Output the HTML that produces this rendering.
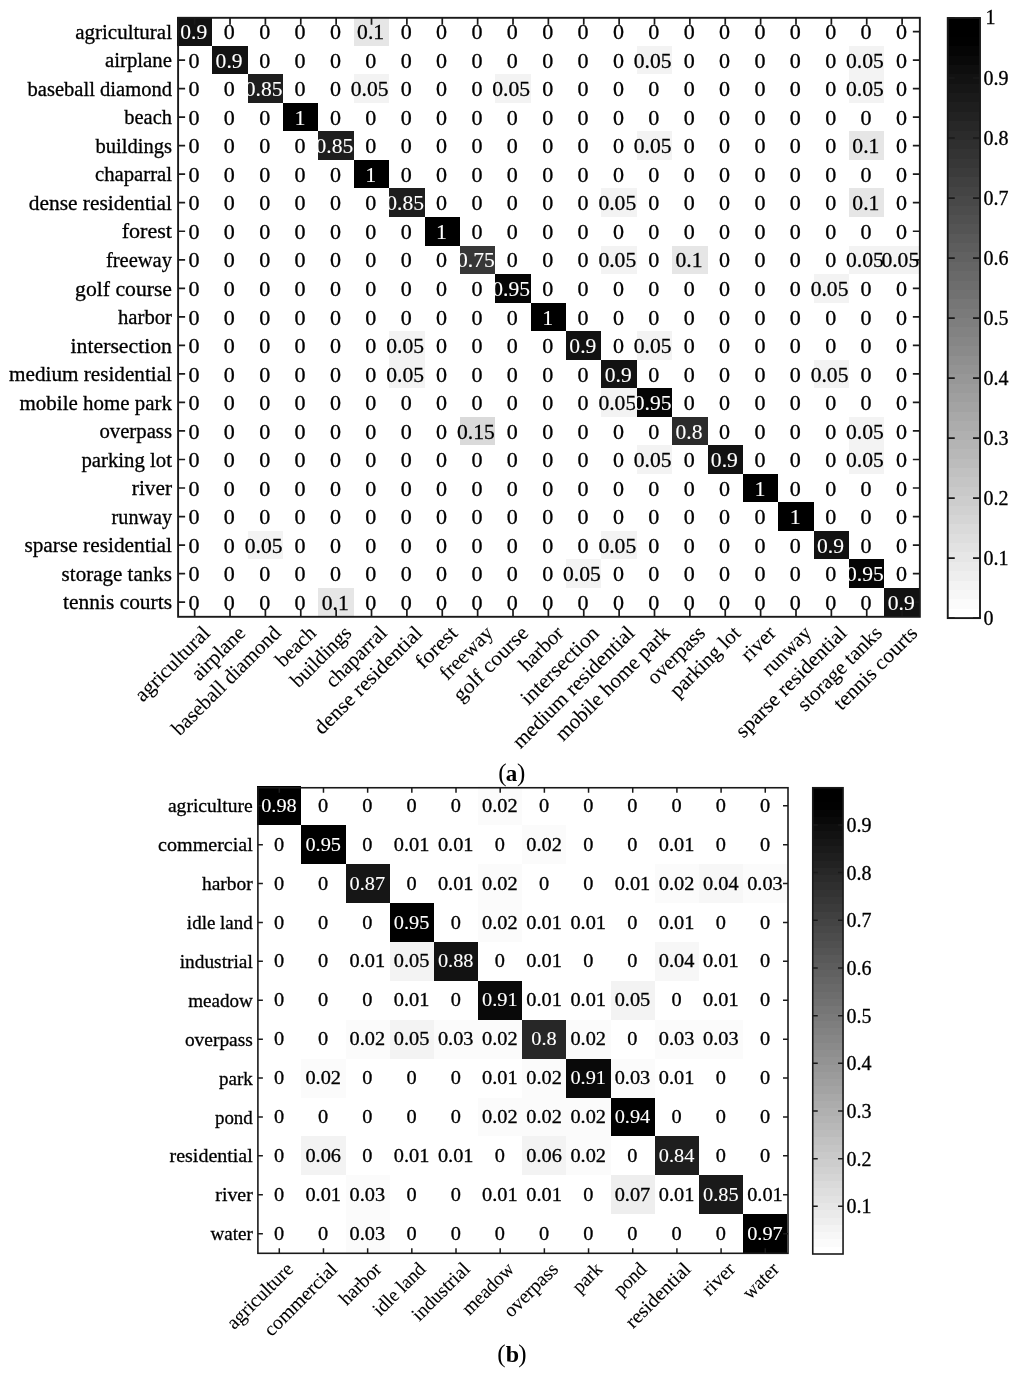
<!DOCTYPE html>
<html><head><meta charset="utf-8"><title>Confusion matrices</title>
<style>html,body{margin:0;padding:0;background:#fff;overflow:hidden;} svg{display:block;}</style></head>
<body><svg width="1024" height="1380" viewBox="0 0 1024 1380">
<rect width="1024" height="1380" fill="#fff"/>
<rect x="176.97" y="17.28" width="35.37" height="28.53" fill="rgb(18,18,18)" shape-rendering="crispEdges"/>
<rect x="353.83" y="17.28" width="35.37" height="28.53" fill="rgb(230,230,230)" shape-rendering="crispEdges"/>
<rect x="212.34" y="45.81" width="35.37" height="28.53" fill="rgb(18,18,18)" shape-rendering="crispEdges"/>
<rect x="636.82" y="45.81" width="35.37" height="28.53" fill="rgb(243,243,243)" shape-rendering="crispEdges"/>
<rect x="849.05" y="45.81" width="35.37" height="28.53" fill="rgb(243,243,243)" shape-rendering="crispEdges"/>
<rect x="247.72" y="74.34" width="35.37" height="28.53" fill="rgb(30,30,30)" shape-rendering="crispEdges"/>
<rect x="353.83" y="74.34" width="35.37" height="28.53" fill="rgb(243,243,243)" shape-rendering="crispEdges"/>
<rect x="495.33" y="74.34" width="35.37" height="28.53" fill="rgb(243,243,243)" shape-rendering="crispEdges"/>
<rect x="849.05" y="74.34" width="35.37" height="28.53" fill="rgb(243,243,243)" shape-rendering="crispEdges"/>
<rect x="283.09" y="102.87" width="35.37" height="28.53" fill="rgb(0,0,0)" shape-rendering="crispEdges"/>
<rect x="318.46" y="131.40" width="35.37" height="28.53" fill="rgb(30,30,30)" shape-rendering="crispEdges"/>
<rect x="636.82" y="131.40" width="35.37" height="28.53" fill="rgb(243,243,243)" shape-rendering="crispEdges"/>
<rect x="849.05" y="131.40" width="35.37" height="28.53" fill="rgb(230,230,230)" shape-rendering="crispEdges"/>
<rect x="353.83" y="159.93" width="35.37" height="28.53" fill="rgb(0,0,0)" shape-rendering="crispEdges"/>
<rect x="389.21" y="188.46" width="35.37" height="28.53" fill="rgb(30,30,30)" shape-rendering="crispEdges"/>
<rect x="601.44" y="188.46" width="35.37" height="28.53" fill="rgb(243,243,243)" shape-rendering="crispEdges"/>
<rect x="849.05" y="188.46" width="35.37" height="28.53" fill="rgb(230,230,230)" shape-rendering="crispEdges"/>
<rect x="424.58" y="216.99" width="35.37" height="28.53" fill="rgb(0,0,0)" shape-rendering="crispEdges"/>
<rect x="459.95" y="245.52" width="35.37" height="28.53" fill="rgb(55,55,55)" shape-rendering="crispEdges"/>
<rect x="601.44" y="245.52" width="35.37" height="28.53" fill="rgb(243,243,243)" shape-rendering="crispEdges"/>
<rect x="672.19" y="245.52" width="35.37" height="28.53" fill="rgb(230,230,230)" shape-rendering="crispEdges"/>
<rect x="849.05" y="245.52" width="35.37" height="28.53" fill="rgb(243,243,243)" shape-rendering="crispEdges"/>
<rect x="884.43" y="245.52" width="35.37" height="28.53" fill="rgb(243,243,243)" shape-rendering="crispEdges"/>
<rect x="495.33" y="274.05" width="35.37" height="28.53" fill="rgb(5,5,5)" shape-rendering="crispEdges"/>
<rect x="813.68" y="274.05" width="35.37" height="28.53" fill="rgb(243,243,243)" shape-rendering="crispEdges"/>
<rect x="530.70" y="302.58" width="35.37" height="28.53" fill="rgb(0,0,0)" shape-rendering="crispEdges"/>
<rect x="389.21" y="331.10" width="35.37" height="28.53" fill="rgb(243,243,243)" shape-rendering="crispEdges"/>
<rect x="566.07" y="331.10" width="35.37" height="28.53" fill="rgb(18,18,18)" shape-rendering="crispEdges"/>
<rect x="636.82" y="331.10" width="35.37" height="28.53" fill="rgb(243,243,243)" shape-rendering="crispEdges"/>
<rect x="389.21" y="359.63" width="35.37" height="28.53" fill="rgb(243,243,243)" shape-rendering="crispEdges"/>
<rect x="601.44" y="359.63" width="35.37" height="28.53" fill="rgb(18,18,18)" shape-rendering="crispEdges"/>
<rect x="813.68" y="359.63" width="35.37" height="28.53" fill="rgb(243,243,243)" shape-rendering="crispEdges"/>
<rect x="601.44" y="388.16" width="35.37" height="28.53" fill="rgb(243,243,243)" shape-rendering="crispEdges"/>
<rect x="636.82" y="388.16" width="35.37" height="28.53" fill="rgb(5,5,5)" shape-rendering="crispEdges"/>
<rect x="459.95" y="416.69" width="35.37" height="28.53" fill="rgb(218,218,218)" shape-rendering="crispEdges"/>
<rect x="672.19" y="416.69" width="35.37" height="28.53" fill="rgb(43,43,43)" shape-rendering="crispEdges"/>
<rect x="849.05" y="416.69" width="35.37" height="28.53" fill="rgb(243,243,243)" shape-rendering="crispEdges"/>
<rect x="636.82" y="445.22" width="35.37" height="28.53" fill="rgb(243,243,243)" shape-rendering="crispEdges"/>
<rect x="707.56" y="445.22" width="35.37" height="28.53" fill="rgb(18,18,18)" shape-rendering="crispEdges"/>
<rect x="849.05" y="445.22" width="35.37" height="28.53" fill="rgb(243,243,243)" shape-rendering="crispEdges"/>
<rect x="742.94" y="473.75" width="35.37" height="28.53" fill="rgb(0,0,0)" shape-rendering="crispEdges"/>
<rect x="778.31" y="502.28" width="35.37" height="28.53" fill="rgb(0,0,0)" shape-rendering="crispEdges"/>
<rect x="247.72" y="530.81" width="35.37" height="28.53" fill="rgb(243,243,243)" shape-rendering="crispEdges"/>
<rect x="601.44" y="530.81" width="35.37" height="28.53" fill="rgb(243,243,243)" shape-rendering="crispEdges"/>
<rect x="813.68" y="530.81" width="35.37" height="28.53" fill="rgb(18,18,18)" shape-rendering="crispEdges"/>
<rect x="566.07" y="559.34" width="35.37" height="28.53" fill="rgb(243,243,243)" shape-rendering="crispEdges"/>
<rect x="849.05" y="559.34" width="35.37" height="28.53" fill="rgb(5,5,5)" shape-rendering="crispEdges"/>
<rect x="318.46" y="587.87" width="35.37" height="28.53" fill="rgb(230,230,230)" shape-rendering="crispEdges"/>
<rect x="884.43" y="587.87" width="35.37" height="28.53" fill="rgb(18,18,18)" shape-rendering="crispEdges"/>
<path d="M194.66 17.80v7M194.66 616.80v-7M230.03 17.80v7M230.03 616.80v-7M265.40 17.80v7M265.40 616.80v-7M300.77 17.80v7M300.77 616.80v-7M336.15 17.80v7M336.15 616.80v-7M371.52 17.80v7M371.52 616.80v-7M406.89 17.80v7M406.89 616.80v-7M442.27 17.80v7M442.27 616.80v-7M477.64 17.80v7M477.64 616.80v-7M513.01 17.80v7M513.01 616.80v-7M548.38 17.80v7M548.38 616.80v-7M583.76 17.80v7M583.76 616.80v-7M619.13 17.80v7M619.13 616.80v-7M654.50 17.80v7M654.50 616.80v-7M689.88 17.80v7M689.88 616.80v-7M725.25 17.80v7M725.25 616.80v-7M760.62 17.80v7M760.62 616.80v-7M796.00 17.80v7M796.00 616.80v-7M831.37 17.80v7M831.37 616.80v-7M866.74 17.80v7M866.74 616.80v-7M902.11 17.80v7M902.11 616.80v-7M178.10 31.54h7M919.85 31.54h-7M178.10 60.07h7M919.85 60.07h-7M178.10 88.60h7M919.85 88.60h-7M178.10 117.13h7M919.85 117.13h-7M178.10 145.66h7M919.85 145.66h-7M178.10 174.19h7M919.85 174.19h-7M178.10 202.72h7M919.85 202.72h-7M178.10 231.25h7M919.85 231.25h-7M178.10 259.78h7M919.85 259.78h-7M178.10 288.31h7M919.85 288.31h-7M178.10 316.84h7M919.85 316.84h-7M178.10 345.37h7M919.85 345.37h-7M178.10 373.90h7M919.85 373.90h-7M178.10 402.43h7M919.85 402.43h-7M178.10 430.96h7M919.85 430.96h-7M178.10 459.49h7M919.85 459.49h-7M178.10 488.02h7M919.85 488.02h-7M178.10 516.55h7M919.85 516.55h-7M178.10 545.08h7M919.85 545.08h-7M178.10 573.61h7M919.85 573.61h-7M178.10 602.14h7M919.85 602.14h-7" stroke="#1a1a1a" stroke-width="1.7" fill="none"/>
<g font-family="'Liberation Serif', 'Times New Roman', serif" font-size="21" text-anchor="middle" stroke-width="0.3">
<text transform="translate(193.76 39.24) scale(1.03 1)" fill="#fff" stroke="#fff" stroke-width="0.1">0.9</text>
<text transform="translate(229.33 39.24) scale(1.05 1)" fill="#000" stroke="#000">0</text>
<text transform="translate(264.70 39.24) scale(1.05 1)" fill="#000" stroke="#000">0</text>
<text transform="translate(300.07 39.24) scale(1.05 1)" fill="#000" stroke="#000">0</text>
<text transform="translate(335.45 39.24) scale(1.05 1)" fill="#000" stroke="#000">0</text>
<text transform="translate(370.62 39.24) scale(1.03 1)" fill="#000" stroke="#000">0.1</text>
<text transform="translate(406.19 39.24) scale(1.05 1)" fill="#000" stroke="#000">0</text>
<text transform="translate(441.57 39.24) scale(1.05 1)" fill="#000" stroke="#000">0</text>
<text transform="translate(476.94 39.24) scale(1.05 1)" fill="#000" stroke="#000">0</text>
<text transform="translate(512.31 39.24) scale(1.05 1)" fill="#000" stroke="#000">0</text>
<text transform="translate(547.68 39.24) scale(1.05 1)" fill="#000" stroke="#000">0</text>
<text transform="translate(583.06 39.24) scale(1.05 1)" fill="#000" stroke="#000">0</text>
<text transform="translate(618.43 39.24) scale(1.05 1)" fill="#000" stroke="#000">0</text>
<text transform="translate(653.80 39.24) scale(1.05 1)" fill="#000" stroke="#000">0</text>
<text transform="translate(689.18 39.24) scale(1.05 1)" fill="#000" stroke="#000">0</text>
<text transform="translate(724.55 39.24) scale(1.05 1)" fill="#000" stroke="#000">0</text>
<text transform="translate(759.92 39.24) scale(1.05 1)" fill="#000" stroke="#000">0</text>
<text transform="translate(795.29 39.24) scale(1.05 1)" fill="#000" stroke="#000">0</text>
<text transform="translate(830.67 39.24) scale(1.05 1)" fill="#000" stroke="#000">0</text>
<text transform="translate(866.04 39.24) scale(1.05 1)" fill="#000" stroke="#000">0</text>
<text transform="translate(901.41 39.24) scale(1.05 1)" fill="#000" stroke="#000">0</text>
<text transform="translate(193.96 67.77) scale(1.05 1)" fill="#000" stroke="#000">0</text>
<text transform="translate(229.13 67.77) scale(1.03 1)" fill="#fff" stroke="#fff" stroke-width="0.1">0.9</text>
<text transform="translate(264.70 67.77) scale(1.05 1)" fill="#000" stroke="#000">0</text>
<text transform="translate(300.07 67.77) scale(1.05 1)" fill="#000" stroke="#000">0</text>
<text transform="translate(335.45 67.77) scale(1.05 1)" fill="#000" stroke="#000">0</text>
<text transform="translate(370.82 67.77) scale(1.05 1)" fill="#000" stroke="#000">0</text>
<text transform="translate(406.19 67.77) scale(1.05 1)" fill="#000" stroke="#000">0</text>
<text transform="translate(441.57 67.77) scale(1.05 1)" fill="#000" stroke="#000">0</text>
<text transform="translate(476.94 67.77) scale(1.05 1)" fill="#000" stroke="#000">0</text>
<text transform="translate(512.31 67.77) scale(1.05 1)" fill="#000" stroke="#000">0</text>
<text transform="translate(547.68 67.77) scale(1.05 1)" fill="#000" stroke="#000">0</text>
<text transform="translate(583.06 67.77) scale(1.05 1)" fill="#000" stroke="#000">0</text>
<text transform="translate(618.43 67.77) scale(1.05 1)" fill="#000" stroke="#000">0</text>
<text transform="translate(652.70 67.77) scale(1.03 1)" fill="#000" stroke="#000">0.05</text>
<text transform="translate(689.18 67.77) scale(1.05 1)" fill="#000" stroke="#000">0</text>
<text transform="translate(724.55 67.77) scale(1.05 1)" fill="#000" stroke="#000">0</text>
<text transform="translate(759.92 67.77) scale(1.05 1)" fill="#000" stroke="#000">0</text>
<text transform="translate(795.29 67.77) scale(1.05 1)" fill="#000" stroke="#000">0</text>
<text transform="translate(830.67 67.77) scale(1.05 1)" fill="#000" stroke="#000">0</text>
<text transform="translate(864.94 67.77) scale(1.03 1)" fill="#000" stroke="#000">0.05</text>
<text transform="translate(901.41 67.77) scale(1.05 1)" fill="#000" stroke="#000">0</text>
<text transform="translate(193.96 96.30) scale(1.05 1)" fill="#000" stroke="#000">0</text>
<text transform="translate(229.33 96.30) scale(1.05 1)" fill="#000" stroke="#000">0</text>
<text transform="translate(263.60 96.30) scale(1.03 1)" fill="#fff" stroke="#fff" stroke-width="0.1">0.85</text>
<text transform="translate(300.07 96.30) scale(1.05 1)" fill="#000" stroke="#000">0</text>
<text transform="translate(335.45 96.30) scale(1.05 1)" fill="#000" stroke="#000">0</text>
<text transform="translate(369.72 96.30) scale(1.03 1)" fill="#000" stroke="#000">0.05</text>
<text transform="translate(406.19 96.30) scale(1.05 1)" fill="#000" stroke="#000">0</text>
<text transform="translate(441.57 96.30) scale(1.05 1)" fill="#000" stroke="#000">0</text>
<text transform="translate(476.94 96.30) scale(1.05 1)" fill="#000" stroke="#000">0</text>
<text transform="translate(511.21 96.30) scale(1.03 1)" fill="#000" stroke="#000">0.05</text>
<text transform="translate(547.68 96.30) scale(1.05 1)" fill="#000" stroke="#000">0</text>
<text transform="translate(583.06 96.30) scale(1.05 1)" fill="#000" stroke="#000">0</text>
<text transform="translate(618.43 96.30) scale(1.05 1)" fill="#000" stroke="#000">0</text>
<text transform="translate(653.80 96.30) scale(1.05 1)" fill="#000" stroke="#000">0</text>
<text transform="translate(689.18 96.30) scale(1.05 1)" fill="#000" stroke="#000">0</text>
<text transform="translate(724.55 96.30) scale(1.05 1)" fill="#000" stroke="#000">0</text>
<text transform="translate(759.92 96.30) scale(1.05 1)" fill="#000" stroke="#000">0</text>
<text transform="translate(795.29 96.30) scale(1.05 1)" fill="#000" stroke="#000">0</text>
<text transform="translate(830.67 96.30) scale(1.05 1)" fill="#000" stroke="#000">0</text>
<text transform="translate(864.94 96.30) scale(1.03 1)" fill="#000" stroke="#000">0.05</text>
<text transform="translate(901.41 96.30) scale(1.05 1)" fill="#000" stroke="#000">0</text>
<text transform="translate(193.96 124.83) scale(1.05 1)" fill="#000" stroke="#000">0</text>
<text transform="translate(229.33 124.83) scale(1.05 1)" fill="#000" stroke="#000">0</text>
<text transform="translate(264.70 124.83) scale(1.05 1)" fill="#000" stroke="#000">0</text>
<text transform="translate(300.07 124.83) scale(1.05 1)" fill="#fff" stroke="#fff" stroke-width="0.1">1</text>
<text transform="translate(335.45 124.83) scale(1.05 1)" fill="#000" stroke="#000">0</text>
<text transform="translate(370.82 124.83) scale(1.05 1)" fill="#000" stroke="#000">0</text>
<text transform="translate(406.19 124.83) scale(1.05 1)" fill="#000" stroke="#000">0</text>
<text transform="translate(441.57 124.83) scale(1.05 1)" fill="#000" stroke="#000">0</text>
<text transform="translate(476.94 124.83) scale(1.05 1)" fill="#000" stroke="#000">0</text>
<text transform="translate(512.31 124.83) scale(1.05 1)" fill="#000" stroke="#000">0</text>
<text transform="translate(547.68 124.83) scale(1.05 1)" fill="#000" stroke="#000">0</text>
<text transform="translate(583.06 124.83) scale(1.05 1)" fill="#000" stroke="#000">0</text>
<text transform="translate(618.43 124.83) scale(1.05 1)" fill="#000" stroke="#000">0</text>
<text transform="translate(653.80 124.83) scale(1.05 1)" fill="#000" stroke="#000">0</text>
<text transform="translate(689.18 124.83) scale(1.05 1)" fill="#000" stroke="#000">0</text>
<text transform="translate(724.55 124.83) scale(1.05 1)" fill="#000" stroke="#000">0</text>
<text transform="translate(759.92 124.83) scale(1.05 1)" fill="#000" stroke="#000">0</text>
<text transform="translate(795.29 124.83) scale(1.05 1)" fill="#000" stroke="#000">0</text>
<text transform="translate(830.67 124.83) scale(1.05 1)" fill="#000" stroke="#000">0</text>
<text transform="translate(866.04 124.83) scale(1.05 1)" fill="#000" stroke="#000">0</text>
<text transform="translate(901.41 124.83) scale(1.05 1)" fill="#000" stroke="#000">0</text>
<text transform="translate(193.96 153.36) scale(1.05 1)" fill="#000" stroke="#000">0</text>
<text transform="translate(229.33 153.36) scale(1.05 1)" fill="#000" stroke="#000">0</text>
<text transform="translate(264.70 153.36) scale(1.05 1)" fill="#000" stroke="#000">0</text>
<text transform="translate(300.07 153.36) scale(1.05 1)" fill="#000" stroke="#000">0</text>
<text transform="translate(334.35 153.36) scale(1.03 1)" fill="#fff" stroke="#fff" stroke-width="0.1">0.85</text>
<text transform="translate(370.82 153.36) scale(1.05 1)" fill="#000" stroke="#000">0</text>
<text transform="translate(406.19 153.36) scale(1.05 1)" fill="#000" stroke="#000">0</text>
<text transform="translate(441.57 153.36) scale(1.05 1)" fill="#000" stroke="#000">0</text>
<text transform="translate(476.94 153.36) scale(1.05 1)" fill="#000" stroke="#000">0</text>
<text transform="translate(512.31 153.36) scale(1.05 1)" fill="#000" stroke="#000">0</text>
<text transform="translate(547.68 153.36) scale(1.05 1)" fill="#000" stroke="#000">0</text>
<text transform="translate(583.06 153.36) scale(1.05 1)" fill="#000" stroke="#000">0</text>
<text transform="translate(618.43 153.36) scale(1.05 1)" fill="#000" stroke="#000">0</text>
<text transform="translate(652.70 153.36) scale(1.03 1)" fill="#000" stroke="#000">0.05</text>
<text transform="translate(689.18 153.36) scale(1.05 1)" fill="#000" stroke="#000">0</text>
<text transform="translate(724.55 153.36) scale(1.05 1)" fill="#000" stroke="#000">0</text>
<text transform="translate(759.92 153.36) scale(1.05 1)" fill="#000" stroke="#000">0</text>
<text transform="translate(795.29 153.36) scale(1.05 1)" fill="#000" stroke="#000">0</text>
<text transform="translate(830.67 153.36) scale(1.05 1)" fill="#000" stroke="#000">0</text>
<text transform="translate(865.84 153.36) scale(1.03 1)" fill="#000" stroke="#000">0.1</text>
<text transform="translate(901.41 153.36) scale(1.05 1)" fill="#000" stroke="#000">0</text>
<text transform="translate(193.96 181.89) scale(1.05 1)" fill="#000" stroke="#000">0</text>
<text transform="translate(229.33 181.89) scale(1.05 1)" fill="#000" stroke="#000">0</text>
<text transform="translate(264.70 181.89) scale(1.05 1)" fill="#000" stroke="#000">0</text>
<text transform="translate(300.07 181.89) scale(1.05 1)" fill="#000" stroke="#000">0</text>
<text transform="translate(335.45 181.89) scale(1.05 1)" fill="#000" stroke="#000">0</text>
<text transform="translate(370.82 181.89) scale(1.05 1)" fill="#fff" stroke="#fff" stroke-width="0.1">1</text>
<text transform="translate(406.19 181.89) scale(1.05 1)" fill="#000" stroke="#000">0</text>
<text transform="translate(441.57 181.89) scale(1.05 1)" fill="#000" stroke="#000">0</text>
<text transform="translate(476.94 181.89) scale(1.05 1)" fill="#000" stroke="#000">0</text>
<text transform="translate(512.31 181.89) scale(1.05 1)" fill="#000" stroke="#000">0</text>
<text transform="translate(547.68 181.89) scale(1.05 1)" fill="#000" stroke="#000">0</text>
<text transform="translate(583.06 181.89) scale(1.05 1)" fill="#000" stroke="#000">0</text>
<text transform="translate(618.43 181.89) scale(1.05 1)" fill="#000" stroke="#000">0</text>
<text transform="translate(653.80 181.89) scale(1.05 1)" fill="#000" stroke="#000">0</text>
<text transform="translate(689.18 181.89) scale(1.05 1)" fill="#000" stroke="#000">0</text>
<text transform="translate(724.55 181.89) scale(1.05 1)" fill="#000" stroke="#000">0</text>
<text transform="translate(759.92 181.89) scale(1.05 1)" fill="#000" stroke="#000">0</text>
<text transform="translate(795.29 181.89) scale(1.05 1)" fill="#000" stroke="#000">0</text>
<text transform="translate(830.67 181.89) scale(1.05 1)" fill="#000" stroke="#000">0</text>
<text transform="translate(866.04 181.89) scale(1.05 1)" fill="#000" stroke="#000">0</text>
<text transform="translate(901.41 181.89) scale(1.05 1)" fill="#000" stroke="#000">0</text>
<text transform="translate(193.96 210.42) scale(1.05 1)" fill="#000" stroke="#000">0</text>
<text transform="translate(229.33 210.42) scale(1.05 1)" fill="#000" stroke="#000">0</text>
<text transform="translate(264.70 210.42) scale(1.05 1)" fill="#000" stroke="#000">0</text>
<text transform="translate(300.07 210.42) scale(1.05 1)" fill="#000" stroke="#000">0</text>
<text transform="translate(335.45 210.42) scale(1.05 1)" fill="#000" stroke="#000">0</text>
<text transform="translate(370.82 210.42) scale(1.05 1)" fill="#000" stroke="#000">0</text>
<text transform="translate(405.09 210.42) scale(1.03 1)" fill="#fff" stroke="#fff" stroke-width="0.1">0.85</text>
<text transform="translate(441.57 210.42) scale(1.05 1)" fill="#000" stroke="#000">0</text>
<text transform="translate(476.94 210.42) scale(1.05 1)" fill="#000" stroke="#000">0</text>
<text transform="translate(512.31 210.42) scale(1.05 1)" fill="#000" stroke="#000">0</text>
<text transform="translate(547.68 210.42) scale(1.05 1)" fill="#000" stroke="#000">0</text>
<text transform="translate(583.06 210.42) scale(1.05 1)" fill="#000" stroke="#000">0</text>
<text transform="translate(617.33 210.42) scale(1.03 1)" fill="#000" stroke="#000">0.05</text>
<text transform="translate(653.80 210.42) scale(1.05 1)" fill="#000" stroke="#000">0</text>
<text transform="translate(689.18 210.42) scale(1.05 1)" fill="#000" stroke="#000">0</text>
<text transform="translate(724.55 210.42) scale(1.05 1)" fill="#000" stroke="#000">0</text>
<text transform="translate(759.92 210.42) scale(1.05 1)" fill="#000" stroke="#000">0</text>
<text transform="translate(795.29 210.42) scale(1.05 1)" fill="#000" stroke="#000">0</text>
<text transform="translate(830.67 210.42) scale(1.05 1)" fill="#000" stroke="#000">0</text>
<text transform="translate(865.84 210.42) scale(1.03 1)" fill="#000" stroke="#000">0.1</text>
<text transform="translate(901.41 210.42) scale(1.05 1)" fill="#000" stroke="#000">0</text>
<text transform="translate(193.96 238.95) scale(1.05 1)" fill="#000" stroke="#000">0</text>
<text transform="translate(229.33 238.95) scale(1.05 1)" fill="#000" stroke="#000">0</text>
<text transform="translate(264.70 238.95) scale(1.05 1)" fill="#000" stroke="#000">0</text>
<text transform="translate(300.07 238.95) scale(1.05 1)" fill="#000" stroke="#000">0</text>
<text transform="translate(335.45 238.95) scale(1.05 1)" fill="#000" stroke="#000">0</text>
<text transform="translate(370.82 238.95) scale(1.05 1)" fill="#000" stroke="#000">0</text>
<text transform="translate(406.19 238.95) scale(1.05 1)" fill="#000" stroke="#000">0</text>
<text transform="translate(441.57 238.95) scale(1.05 1)" fill="#fff" stroke="#fff" stroke-width="0.1">1</text>
<text transform="translate(476.94 238.95) scale(1.05 1)" fill="#000" stroke="#000">0</text>
<text transform="translate(512.31 238.95) scale(1.05 1)" fill="#000" stroke="#000">0</text>
<text transform="translate(547.68 238.95) scale(1.05 1)" fill="#000" stroke="#000">0</text>
<text transform="translate(583.06 238.95) scale(1.05 1)" fill="#000" stroke="#000">0</text>
<text transform="translate(618.43 238.95) scale(1.05 1)" fill="#000" stroke="#000">0</text>
<text transform="translate(653.80 238.95) scale(1.05 1)" fill="#000" stroke="#000">0</text>
<text transform="translate(689.18 238.95) scale(1.05 1)" fill="#000" stroke="#000">0</text>
<text transform="translate(724.55 238.95) scale(1.05 1)" fill="#000" stroke="#000">0</text>
<text transform="translate(759.92 238.95) scale(1.05 1)" fill="#000" stroke="#000">0</text>
<text transform="translate(795.29 238.95) scale(1.05 1)" fill="#000" stroke="#000">0</text>
<text transform="translate(830.67 238.95) scale(1.05 1)" fill="#000" stroke="#000">0</text>
<text transform="translate(866.04 238.95) scale(1.05 1)" fill="#000" stroke="#000">0</text>
<text transform="translate(901.41 238.95) scale(1.05 1)" fill="#000" stroke="#000">0</text>
<text transform="translate(193.96 267.48) scale(1.05 1)" fill="#000" stroke="#000">0</text>
<text transform="translate(229.33 267.48) scale(1.05 1)" fill="#000" stroke="#000">0</text>
<text transform="translate(264.70 267.48) scale(1.05 1)" fill="#000" stroke="#000">0</text>
<text transform="translate(300.07 267.48) scale(1.05 1)" fill="#000" stroke="#000">0</text>
<text transform="translate(335.45 267.48) scale(1.05 1)" fill="#000" stroke="#000">0</text>
<text transform="translate(370.82 267.48) scale(1.05 1)" fill="#000" stroke="#000">0</text>
<text transform="translate(406.19 267.48) scale(1.05 1)" fill="#000" stroke="#000">0</text>
<text transform="translate(441.57 267.48) scale(1.05 1)" fill="#000" stroke="#000">0</text>
<text transform="translate(475.84 267.48) scale(1.03 1)" fill="#fff" stroke="#fff" stroke-width="0.1">0.75</text>
<text transform="translate(512.31 267.48) scale(1.05 1)" fill="#000" stroke="#000">0</text>
<text transform="translate(547.68 267.48) scale(1.05 1)" fill="#000" stroke="#000">0</text>
<text transform="translate(583.06 267.48) scale(1.05 1)" fill="#000" stroke="#000">0</text>
<text transform="translate(617.33 267.48) scale(1.03 1)" fill="#000" stroke="#000">0.05</text>
<text transform="translate(653.80 267.48) scale(1.05 1)" fill="#000" stroke="#000">0</text>
<text transform="translate(688.98 267.48) scale(1.03 1)" fill="#000" stroke="#000">0.1</text>
<text transform="translate(724.55 267.48) scale(1.05 1)" fill="#000" stroke="#000">0</text>
<text transform="translate(759.92 267.48) scale(1.05 1)" fill="#000" stroke="#000">0</text>
<text transform="translate(795.29 267.48) scale(1.05 1)" fill="#000" stroke="#000">0</text>
<text transform="translate(830.67 267.48) scale(1.05 1)" fill="#000" stroke="#000">0</text>
<text transform="translate(864.94 267.48) scale(1.03 1)" fill="#000" stroke="#000">0.05</text>
<text transform="translate(900.31 267.48) scale(1.03 1)" fill="#000" stroke="#000">0.05</text>
<text transform="translate(193.96 296.01) scale(1.05 1)" fill="#000" stroke="#000">0</text>
<text transform="translate(229.33 296.01) scale(1.05 1)" fill="#000" stroke="#000">0</text>
<text transform="translate(264.70 296.01) scale(1.05 1)" fill="#000" stroke="#000">0</text>
<text transform="translate(300.07 296.01) scale(1.05 1)" fill="#000" stroke="#000">0</text>
<text transform="translate(335.45 296.01) scale(1.05 1)" fill="#000" stroke="#000">0</text>
<text transform="translate(370.82 296.01) scale(1.05 1)" fill="#000" stroke="#000">0</text>
<text transform="translate(406.19 296.01) scale(1.05 1)" fill="#000" stroke="#000">0</text>
<text transform="translate(441.57 296.01) scale(1.05 1)" fill="#000" stroke="#000">0</text>
<text transform="translate(476.94 296.01) scale(1.05 1)" fill="#000" stroke="#000">0</text>
<text transform="translate(511.21 296.01) scale(1.03 1)" fill="#fff" stroke="#fff" stroke-width="0.1">0.95</text>
<text transform="translate(547.68 296.01) scale(1.05 1)" fill="#000" stroke="#000">0</text>
<text transform="translate(583.06 296.01) scale(1.05 1)" fill="#000" stroke="#000">0</text>
<text transform="translate(618.43 296.01) scale(1.05 1)" fill="#000" stroke="#000">0</text>
<text transform="translate(653.80 296.01) scale(1.05 1)" fill="#000" stroke="#000">0</text>
<text transform="translate(689.18 296.01) scale(1.05 1)" fill="#000" stroke="#000">0</text>
<text transform="translate(724.55 296.01) scale(1.05 1)" fill="#000" stroke="#000">0</text>
<text transform="translate(759.92 296.01) scale(1.05 1)" fill="#000" stroke="#000">0</text>
<text transform="translate(795.29 296.01) scale(1.05 1)" fill="#000" stroke="#000">0</text>
<text transform="translate(829.57 296.01) scale(1.03 1)" fill="#000" stroke="#000">0.05</text>
<text transform="translate(866.04 296.01) scale(1.05 1)" fill="#000" stroke="#000">0</text>
<text transform="translate(901.41 296.01) scale(1.05 1)" fill="#000" stroke="#000">0</text>
<text transform="translate(193.96 324.54) scale(1.05 1)" fill="#000" stroke="#000">0</text>
<text transform="translate(229.33 324.54) scale(1.05 1)" fill="#000" stroke="#000">0</text>
<text transform="translate(264.70 324.54) scale(1.05 1)" fill="#000" stroke="#000">0</text>
<text transform="translate(300.07 324.54) scale(1.05 1)" fill="#000" stroke="#000">0</text>
<text transform="translate(335.45 324.54) scale(1.05 1)" fill="#000" stroke="#000">0</text>
<text transform="translate(370.82 324.54) scale(1.05 1)" fill="#000" stroke="#000">0</text>
<text transform="translate(406.19 324.54) scale(1.05 1)" fill="#000" stroke="#000">0</text>
<text transform="translate(441.57 324.54) scale(1.05 1)" fill="#000" stroke="#000">0</text>
<text transform="translate(476.94 324.54) scale(1.05 1)" fill="#000" stroke="#000">0</text>
<text transform="translate(512.31 324.54) scale(1.05 1)" fill="#000" stroke="#000">0</text>
<text transform="translate(547.68 324.54) scale(1.05 1)" fill="#fff" stroke="#fff" stroke-width="0.1">1</text>
<text transform="translate(583.06 324.54) scale(1.05 1)" fill="#000" stroke="#000">0</text>
<text transform="translate(618.43 324.54) scale(1.05 1)" fill="#000" stroke="#000">0</text>
<text transform="translate(653.80 324.54) scale(1.05 1)" fill="#000" stroke="#000">0</text>
<text transform="translate(689.18 324.54) scale(1.05 1)" fill="#000" stroke="#000">0</text>
<text transform="translate(724.55 324.54) scale(1.05 1)" fill="#000" stroke="#000">0</text>
<text transform="translate(759.92 324.54) scale(1.05 1)" fill="#000" stroke="#000">0</text>
<text transform="translate(795.29 324.54) scale(1.05 1)" fill="#000" stroke="#000">0</text>
<text transform="translate(830.67 324.54) scale(1.05 1)" fill="#000" stroke="#000">0</text>
<text transform="translate(866.04 324.54) scale(1.05 1)" fill="#000" stroke="#000">0</text>
<text transform="translate(901.41 324.54) scale(1.05 1)" fill="#000" stroke="#000">0</text>
<text transform="translate(193.96 353.07) scale(1.05 1)" fill="#000" stroke="#000">0</text>
<text transform="translate(229.33 353.07) scale(1.05 1)" fill="#000" stroke="#000">0</text>
<text transform="translate(264.70 353.07) scale(1.05 1)" fill="#000" stroke="#000">0</text>
<text transform="translate(300.07 353.07) scale(1.05 1)" fill="#000" stroke="#000">0</text>
<text transform="translate(335.45 353.07) scale(1.05 1)" fill="#000" stroke="#000">0</text>
<text transform="translate(370.82 353.07) scale(1.05 1)" fill="#000" stroke="#000">0</text>
<text transform="translate(405.09 353.07) scale(1.03 1)" fill="#000" stroke="#000">0.05</text>
<text transform="translate(441.57 353.07) scale(1.05 1)" fill="#000" stroke="#000">0</text>
<text transform="translate(476.94 353.07) scale(1.05 1)" fill="#000" stroke="#000">0</text>
<text transform="translate(512.31 353.07) scale(1.05 1)" fill="#000" stroke="#000">0</text>
<text transform="translate(547.68 353.07) scale(1.05 1)" fill="#000" stroke="#000">0</text>
<text transform="translate(582.86 353.07) scale(1.03 1)" fill="#fff" stroke="#fff" stroke-width="0.1">0.9</text>
<text transform="translate(618.43 353.07) scale(1.05 1)" fill="#000" stroke="#000">0</text>
<text transform="translate(652.70 353.07) scale(1.03 1)" fill="#000" stroke="#000">0.05</text>
<text transform="translate(689.18 353.07) scale(1.05 1)" fill="#000" stroke="#000">0</text>
<text transform="translate(724.55 353.07) scale(1.05 1)" fill="#000" stroke="#000">0</text>
<text transform="translate(759.92 353.07) scale(1.05 1)" fill="#000" stroke="#000">0</text>
<text transform="translate(795.29 353.07) scale(1.05 1)" fill="#000" stroke="#000">0</text>
<text transform="translate(830.67 353.07) scale(1.05 1)" fill="#000" stroke="#000">0</text>
<text transform="translate(866.04 353.07) scale(1.05 1)" fill="#000" stroke="#000">0</text>
<text transform="translate(901.41 353.07) scale(1.05 1)" fill="#000" stroke="#000">0</text>
<text transform="translate(193.96 381.60) scale(1.05 1)" fill="#000" stroke="#000">0</text>
<text transform="translate(229.33 381.60) scale(1.05 1)" fill="#000" stroke="#000">0</text>
<text transform="translate(264.70 381.60) scale(1.05 1)" fill="#000" stroke="#000">0</text>
<text transform="translate(300.07 381.60) scale(1.05 1)" fill="#000" stroke="#000">0</text>
<text transform="translate(335.45 381.60) scale(1.05 1)" fill="#000" stroke="#000">0</text>
<text transform="translate(370.82 381.60) scale(1.05 1)" fill="#000" stroke="#000">0</text>
<text transform="translate(405.09 381.60) scale(1.03 1)" fill="#000" stroke="#000">0.05</text>
<text transform="translate(441.57 381.60) scale(1.05 1)" fill="#000" stroke="#000">0</text>
<text transform="translate(476.94 381.60) scale(1.05 1)" fill="#000" stroke="#000">0</text>
<text transform="translate(512.31 381.60) scale(1.05 1)" fill="#000" stroke="#000">0</text>
<text transform="translate(547.68 381.60) scale(1.05 1)" fill="#000" stroke="#000">0</text>
<text transform="translate(583.06 381.60) scale(1.05 1)" fill="#000" stroke="#000">0</text>
<text transform="translate(618.23 381.60) scale(1.03 1)" fill="#fff" stroke="#fff" stroke-width="0.1">0.9</text>
<text transform="translate(653.80 381.60) scale(1.05 1)" fill="#000" stroke="#000">0</text>
<text transform="translate(689.18 381.60) scale(1.05 1)" fill="#000" stroke="#000">0</text>
<text transform="translate(724.55 381.60) scale(1.05 1)" fill="#000" stroke="#000">0</text>
<text transform="translate(759.92 381.60) scale(1.05 1)" fill="#000" stroke="#000">0</text>
<text transform="translate(795.29 381.60) scale(1.05 1)" fill="#000" stroke="#000">0</text>
<text transform="translate(829.57 381.60) scale(1.03 1)" fill="#000" stroke="#000">0.05</text>
<text transform="translate(866.04 381.60) scale(1.05 1)" fill="#000" stroke="#000">0</text>
<text transform="translate(901.41 381.60) scale(1.05 1)" fill="#000" stroke="#000">0</text>
<text transform="translate(193.96 410.13) scale(1.05 1)" fill="#000" stroke="#000">0</text>
<text transform="translate(229.33 410.13) scale(1.05 1)" fill="#000" stroke="#000">0</text>
<text transform="translate(264.70 410.13) scale(1.05 1)" fill="#000" stroke="#000">0</text>
<text transform="translate(300.07 410.13) scale(1.05 1)" fill="#000" stroke="#000">0</text>
<text transform="translate(335.45 410.13) scale(1.05 1)" fill="#000" stroke="#000">0</text>
<text transform="translate(370.82 410.13) scale(1.05 1)" fill="#000" stroke="#000">0</text>
<text transform="translate(406.19 410.13) scale(1.05 1)" fill="#000" stroke="#000">0</text>
<text transform="translate(441.57 410.13) scale(1.05 1)" fill="#000" stroke="#000">0</text>
<text transform="translate(476.94 410.13) scale(1.05 1)" fill="#000" stroke="#000">0</text>
<text transform="translate(512.31 410.13) scale(1.05 1)" fill="#000" stroke="#000">0</text>
<text transform="translate(547.68 410.13) scale(1.05 1)" fill="#000" stroke="#000">0</text>
<text transform="translate(583.06 410.13) scale(1.05 1)" fill="#000" stroke="#000">0</text>
<text transform="translate(617.33 410.13) scale(1.03 1)" fill="#000" stroke="#000">0.05</text>
<text transform="translate(652.70 410.13) scale(1.03 1)" fill="#fff" stroke="#fff" stroke-width="0.1">0.95</text>
<text transform="translate(689.18 410.13) scale(1.05 1)" fill="#000" stroke="#000">0</text>
<text transform="translate(724.55 410.13) scale(1.05 1)" fill="#000" stroke="#000">0</text>
<text transform="translate(759.92 410.13) scale(1.05 1)" fill="#000" stroke="#000">0</text>
<text transform="translate(795.29 410.13) scale(1.05 1)" fill="#000" stroke="#000">0</text>
<text transform="translate(830.67 410.13) scale(1.05 1)" fill="#000" stroke="#000">0</text>
<text transform="translate(866.04 410.13) scale(1.05 1)" fill="#000" stroke="#000">0</text>
<text transform="translate(901.41 410.13) scale(1.05 1)" fill="#000" stroke="#000">0</text>
<text transform="translate(193.96 438.66) scale(1.05 1)" fill="#000" stroke="#000">0</text>
<text transform="translate(229.33 438.66) scale(1.05 1)" fill="#000" stroke="#000">0</text>
<text transform="translate(264.70 438.66) scale(1.05 1)" fill="#000" stroke="#000">0</text>
<text transform="translate(300.07 438.66) scale(1.05 1)" fill="#000" stroke="#000">0</text>
<text transform="translate(335.45 438.66) scale(1.05 1)" fill="#000" stroke="#000">0</text>
<text transform="translate(370.82 438.66) scale(1.05 1)" fill="#000" stroke="#000">0</text>
<text transform="translate(406.19 438.66) scale(1.05 1)" fill="#000" stroke="#000">0</text>
<text transform="translate(441.57 438.66) scale(1.05 1)" fill="#000" stroke="#000">0</text>
<text transform="translate(475.84 438.66) scale(1.03 1)" fill="#000" stroke="#000">0.15</text>
<text transform="translate(512.31 438.66) scale(1.05 1)" fill="#000" stroke="#000">0</text>
<text transform="translate(547.68 438.66) scale(1.05 1)" fill="#000" stroke="#000">0</text>
<text transform="translate(583.06 438.66) scale(1.05 1)" fill="#000" stroke="#000">0</text>
<text transform="translate(618.43 438.66) scale(1.05 1)" fill="#000" stroke="#000">0</text>
<text transform="translate(653.80 438.66) scale(1.05 1)" fill="#000" stroke="#000">0</text>
<text transform="translate(688.98 438.66) scale(1.03 1)" fill="#fff" stroke="#fff" stroke-width="0.1">0.8</text>
<text transform="translate(724.55 438.66) scale(1.05 1)" fill="#000" stroke="#000">0</text>
<text transform="translate(759.92 438.66) scale(1.05 1)" fill="#000" stroke="#000">0</text>
<text transform="translate(795.29 438.66) scale(1.05 1)" fill="#000" stroke="#000">0</text>
<text transform="translate(830.67 438.66) scale(1.05 1)" fill="#000" stroke="#000">0</text>
<text transform="translate(864.94 438.66) scale(1.03 1)" fill="#000" stroke="#000">0.05</text>
<text transform="translate(901.41 438.66) scale(1.05 1)" fill="#000" stroke="#000">0</text>
<text transform="translate(193.96 467.19) scale(1.05 1)" fill="#000" stroke="#000">0</text>
<text transform="translate(229.33 467.19) scale(1.05 1)" fill="#000" stroke="#000">0</text>
<text transform="translate(264.70 467.19) scale(1.05 1)" fill="#000" stroke="#000">0</text>
<text transform="translate(300.07 467.19) scale(1.05 1)" fill="#000" stroke="#000">0</text>
<text transform="translate(335.45 467.19) scale(1.05 1)" fill="#000" stroke="#000">0</text>
<text transform="translate(370.82 467.19) scale(1.05 1)" fill="#000" stroke="#000">0</text>
<text transform="translate(406.19 467.19) scale(1.05 1)" fill="#000" stroke="#000">0</text>
<text transform="translate(441.57 467.19) scale(1.05 1)" fill="#000" stroke="#000">0</text>
<text transform="translate(476.94 467.19) scale(1.05 1)" fill="#000" stroke="#000">0</text>
<text transform="translate(512.31 467.19) scale(1.05 1)" fill="#000" stroke="#000">0</text>
<text transform="translate(547.68 467.19) scale(1.05 1)" fill="#000" stroke="#000">0</text>
<text transform="translate(583.06 467.19) scale(1.05 1)" fill="#000" stroke="#000">0</text>
<text transform="translate(618.43 467.19) scale(1.05 1)" fill="#000" stroke="#000">0</text>
<text transform="translate(652.70 467.19) scale(1.03 1)" fill="#000" stroke="#000">0.05</text>
<text transform="translate(689.18 467.19) scale(1.05 1)" fill="#000" stroke="#000">0</text>
<text transform="translate(724.35 467.19) scale(1.03 1)" fill="#fff" stroke="#fff" stroke-width="0.1">0.9</text>
<text transform="translate(759.92 467.19) scale(1.05 1)" fill="#000" stroke="#000">0</text>
<text transform="translate(795.29 467.19) scale(1.05 1)" fill="#000" stroke="#000">0</text>
<text transform="translate(830.67 467.19) scale(1.05 1)" fill="#000" stroke="#000">0</text>
<text transform="translate(864.94 467.19) scale(1.03 1)" fill="#000" stroke="#000">0.05</text>
<text transform="translate(901.41 467.19) scale(1.05 1)" fill="#000" stroke="#000">0</text>
<text transform="translate(193.96 495.72) scale(1.05 1)" fill="#000" stroke="#000">0</text>
<text transform="translate(229.33 495.72) scale(1.05 1)" fill="#000" stroke="#000">0</text>
<text transform="translate(264.70 495.72) scale(1.05 1)" fill="#000" stroke="#000">0</text>
<text transform="translate(300.07 495.72) scale(1.05 1)" fill="#000" stroke="#000">0</text>
<text transform="translate(335.45 495.72) scale(1.05 1)" fill="#000" stroke="#000">0</text>
<text transform="translate(370.82 495.72) scale(1.05 1)" fill="#000" stroke="#000">0</text>
<text transform="translate(406.19 495.72) scale(1.05 1)" fill="#000" stroke="#000">0</text>
<text transform="translate(441.57 495.72) scale(1.05 1)" fill="#000" stroke="#000">0</text>
<text transform="translate(476.94 495.72) scale(1.05 1)" fill="#000" stroke="#000">0</text>
<text transform="translate(512.31 495.72) scale(1.05 1)" fill="#000" stroke="#000">0</text>
<text transform="translate(547.68 495.72) scale(1.05 1)" fill="#000" stroke="#000">0</text>
<text transform="translate(583.06 495.72) scale(1.05 1)" fill="#000" stroke="#000">0</text>
<text transform="translate(618.43 495.72) scale(1.05 1)" fill="#000" stroke="#000">0</text>
<text transform="translate(653.80 495.72) scale(1.05 1)" fill="#000" stroke="#000">0</text>
<text transform="translate(689.18 495.72) scale(1.05 1)" fill="#000" stroke="#000">0</text>
<text transform="translate(724.55 495.72) scale(1.05 1)" fill="#000" stroke="#000">0</text>
<text transform="translate(759.92 495.72) scale(1.05 1)" fill="#fff" stroke="#fff" stroke-width="0.1">1</text>
<text transform="translate(795.29 495.72) scale(1.05 1)" fill="#000" stroke="#000">0</text>
<text transform="translate(830.67 495.72) scale(1.05 1)" fill="#000" stroke="#000">0</text>
<text transform="translate(866.04 495.72) scale(1.05 1)" fill="#000" stroke="#000">0</text>
<text transform="translate(901.41 495.72) scale(1.05 1)" fill="#000" stroke="#000">0</text>
<text transform="translate(193.96 524.25) scale(1.05 1)" fill="#000" stroke="#000">0</text>
<text transform="translate(229.33 524.25) scale(1.05 1)" fill="#000" stroke="#000">0</text>
<text transform="translate(264.70 524.25) scale(1.05 1)" fill="#000" stroke="#000">0</text>
<text transform="translate(300.07 524.25) scale(1.05 1)" fill="#000" stroke="#000">0</text>
<text transform="translate(335.45 524.25) scale(1.05 1)" fill="#000" stroke="#000">0</text>
<text transform="translate(370.82 524.25) scale(1.05 1)" fill="#000" stroke="#000">0</text>
<text transform="translate(406.19 524.25) scale(1.05 1)" fill="#000" stroke="#000">0</text>
<text transform="translate(441.57 524.25) scale(1.05 1)" fill="#000" stroke="#000">0</text>
<text transform="translate(476.94 524.25) scale(1.05 1)" fill="#000" stroke="#000">0</text>
<text transform="translate(512.31 524.25) scale(1.05 1)" fill="#000" stroke="#000">0</text>
<text transform="translate(547.68 524.25) scale(1.05 1)" fill="#000" stroke="#000">0</text>
<text transform="translate(583.06 524.25) scale(1.05 1)" fill="#000" stroke="#000">0</text>
<text transform="translate(618.43 524.25) scale(1.05 1)" fill="#000" stroke="#000">0</text>
<text transform="translate(653.80 524.25) scale(1.05 1)" fill="#000" stroke="#000">0</text>
<text transform="translate(689.18 524.25) scale(1.05 1)" fill="#000" stroke="#000">0</text>
<text transform="translate(724.55 524.25) scale(1.05 1)" fill="#000" stroke="#000">0</text>
<text transform="translate(759.92 524.25) scale(1.05 1)" fill="#000" stroke="#000">0</text>
<text transform="translate(795.29 524.25) scale(1.05 1)" fill="#fff" stroke="#fff" stroke-width="0.1">1</text>
<text transform="translate(830.67 524.25) scale(1.05 1)" fill="#000" stroke="#000">0</text>
<text transform="translate(866.04 524.25) scale(1.05 1)" fill="#000" stroke="#000">0</text>
<text transform="translate(901.41 524.25) scale(1.05 1)" fill="#000" stroke="#000">0</text>
<text transform="translate(193.96 552.78) scale(1.05 1)" fill="#000" stroke="#000">0</text>
<text transform="translate(229.33 552.78) scale(1.05 1)" fill="#000" stroke="#000">0</text>
<text transform="translate(263.60 552.78) scale(1.03 1)" fill="#000" stroke="#000">0.05</text>
<text transform="translate(300.07 552.78) scale(1.05 1)" fill="#000" stroke="#000">0</text>
<text transform="translate(335.45 552.78) scale(1.05 1)" fill="#000" stroke="#000">0</text>
<text transform="translate(370.82 552.78) scale(1.05 1)" fill="#000" stroke="#000">0</text>
<text transform="translate(406.19 552.78) scale(1.05 1)" fill="#000" stroke="#000">0</text>
<text transform="translate(441.57 552.78) scale(1.05 1)" fill="#000" stroke="#000">0</text>
<text transform="translate(476.94 552.78) scale(1.05 1)" fill="#000" stroke="#000">0</text>
<text transform="translate(512.31 552.78) scale(1.05 1)" fill="#000" stroke="#000">0</text>
<text transform="translate(547.68 552.78) scale(1.05 1)" fill="#000" stroke="#000">0</text>
<text transform="translate(583.06 552.78) scale(1.05 1)" fill="#000" stroke="#000">0</text>
<text transform="translate(617.33 552.78) scale(1.03 1)" fill="#000" stroke="#000">0.05</text>
<text transform="translate(653.80 552.78) scale(1.05 1)" fill="#000" stroke="#000">0</text>
<text transform="translate(689.18 552.78) scale(1.05 1)" fill="#000" stroke="#000">0</text>
<text transform="translate(724.55 552.78) scale(1.05 1)" fill="#000" stroke="#000">0</text>
<text transform="translate(759.92 552.78) scale(1.05 1)" fill="#000" stroke="#000">0</text>
<text transform="translate(795.29 552.78) scale(1.05 1)" fill="#000" stroke="#000">0</text>
<text transform="translate(830.47 552.78) scale(1.03 1)" fill="#fff" stroke="#fff" stroke-width="0.1">0.9</text>
<text transform="translate(866.04 552.78) scale(1.05 1)" fill="#000" stroke="#000">0</text>
<text transform="translate(901.41 552.78) scale(1.05 1)" fill="#000" stroke="#000">0</text>
<text transform="translate(193.96 581.31) scale(1.05 1)" fill="#000" stroke="#000">0</text>
<text transform="translate(229.33 581.31) scale(1.05 1)" fill="#000" stroke="#000">0</text>
<text transform="translate(264.70 581.31) scale(1.05 1)" fill="#000" stroke="#000">0</text>
<text transform="translate(300.07 581.31) scale(1.05 1)" fill="#000" stroke="#000">0</text>
<text transform="translate(335.45 581.31) scale(1.05 1)" fill="#000" stroke="#000">0</text>
<text transform="translate(370.82 581.31) scale(1.05 1)" fill="#000" stroke="#000">0</text>
<text transform="translate(406.19 581.31) scale(1.05 1)" fill="#000" stroke="#000">0</text>
<text transform="translate(441.57 581.31) scale(1.05 1)" fill="#000" stroke="#000">0</text>
<text transform="translate(476.94 581.31) scale(1.05 1)" fill="#000" stroke="#000">0</text>
<text transform="translate(512.31 581.31) scale(1.05 1)" fill="#000" stroke="#000">0</text>
<text transform="translate(547.68 581.31) scale(1.05 1)" fill="#000" stroke="#000">0</text>
<text transform="translate(581.96 581.31) scale(1.03 1)" fill="#000" stroke="#000">0.05</text>
<text transform="translate(618.43 581.31) scale(1.05 1)" fill="#000" stroke="#000">0</text>
<text transform="translate(653.80 581.31) scale(1.05 1)" fill="#000" stroke="#000">0</text>
<text transform="translate(689.18 581.31) scale(1.05 1)" fill="#000" stroke="#000">0</text>
<text transform="translate(724.55 581.31) scale(1.05 1)" fill="#000" stroke="#000">0</text>
<text transform="translate(759.92 581.31) scale(1.05 1)" fill="#000" stroke="#000">0</text>
<text transform="translate(795.29 581.31) scale(1.05 1)" fill="#000" stroke="#000">0</text>
<text transform="translate(830.67 581.31) scale(1.05 1)" fill="#000" stroke="#000">0</text>
<text transform="translate(864.94 581.31) scale(1.03 1)" fill="#fff" stroke="#fff" stroke-width="0.1">0.95</text>
<text transform="translate(901.41 581.31) scale(1.05 1)" fill="#000" stroke="#000">0</text>
<text transform="translate(193.96 609.84) scale(1.05 1)" fill="#000" stroke="#000">0</text>
<text transform="translate(229.33 609.84) scale(1.05 1)" fill="#000" stroke="#000">0</text>
<text transform="translate(264.70 609.84) scale(1.05 1)" fill="#000" stroke="#000">0</text>
<text transform="translate(300.07 609.84) scale(1.05 1)" fill="#000" stroke="#000">0</text>
<text transform="translate(335.25 609.84) scale(1.03 1)" fill="#000" stroke="#000">0.1</text>
<text transform="translate(370.82 609.84) scale(1.05 1)" fill="#000" stroke="#000">0</text>
<text transform="translate(406.19 609.84) scale(1.05 1)" fill="#000" stroke="#000">0</text>
<text transform="translate(441.57 609.84) scale(1.05 1)" fill="#000" stroke="#000">0</text>
<text transform="translate(476.94 609.84) scale(1.05 1)" fill="#000" stroke="#000">0</text>
<text transform="translate(512.31 609.84) scale(1.05 1)" fill="#000" stroke="#000">0</text>
<text transform="translate(547.68 609.84) scale(1.05 1)" fill="#000" stroke="#000">0</text>
<text transform="translate(583.06 609.84) scale(1.05 1)" fill="#000" stroke="#000">0</text>
<text transform="translate(618.43 609.84) scale(1.05 1)" fill="#000" stroke="#000">0</text>
<text transform="translate(653.80 609.84) scale(1.05 1)" fill="#000" stroke="#000">0</text>
<text transform="translate(689.18 609.84) scale(1.05 1)" fill="#000" stroke="#000">0</text>
<text transform="translate(724.55 609.84) scale(1.05 1)" fill="#000" stroke="#000">0</text>
<text transform="translate(759.92 609.84) scale(1.05 1)" fill="#000" stroke="#000">0</text>
<text transform="translate(795.29 609.84) scale(1.05 1)" fill="#000" stroke="#000">0</text>
<text transform="translate(830.67 609.84) scale(1.05 1)" fill="#000" stroke="#000">0</text>
<text transform="translate(866.04 609.84) scale(1.05 1)" fill="#000" stroke="#000">0</text>
<text transform="translate(901.21 609.84) scale(1.03 1)" fill="#fff" stroke="#fff" stroke-width="0.1">0.9</text>
</g>
<rect x="178.10" y="17.80" width="741.75" height="599.00" fill="none" stroke="#1a1a1a" stroke-width="1.9"/>
<g font-family="'Liberation Serif', 'Times New Roman', serif" font-size="20.8" text-anchor="end" fill="#000" stroke="#000" stroke-width="0.3">
<text x="172.00" y="38.74" textLength="96.76" lengthAdjust="spacingAndGlyphs">agricultural</text>
<text x="172.00" y="67.27" textLength="66.98" lengthAdjust="spacingAndGlyphs">airplane</text>
<text x="172.00" y="95.80" textLength="144.53" lengthAdjust="spacingAndGlyphs">baseball diamond</text>
<text x="172.00" y="124.33" textLength="47.7" lengthAdjust="spacingAndGlyphs">beach</text>
<text x="172.00" y="152.86" textLength="76.62" lengthAdjust="spacingAndGlyphs">buildings</text>
<text x="172.00" y="181.39" textLength="77.06" lengthAdjust="spacingAndGlyphs">chaparral</text>
<text x="172.00" y="209.92" textLength="143.27" lengthAdjust="spacingAndGlyphs">dense residential</text>
<text x="172.00" y="238.45" textLength="50.26" lengthAdjust="spacingAndGlyphs">forest</text>
<text x="172.00" y="266.98" textLength="66.07" lengthAdjust="spacingAndGlyphs">freeway</text>
<text x="172.00" y="295.51" textLength="96.88" lengthAdjust="spacingAndGlyphs">golf course</text>
<text x="172.00" y="324.04" textLength="53.98" lengthAdjust="spacingAndGlyphs">harbor</text>
<text x="172.00" y="352.57" textLength="101.43" lengthAdjust="spacingAndGlyphs">intersection</text>
<text x="172.00" y="381.10" textLength="162.98" lengthAdjust="spacingAndGlyphs">medium residential</text>
<text x="172.00" y="409.63" textLength="152.43" lengthAdjust="spacingAndGlyphs">mobile home park</text>
<text x="172.00" y="438.16" textLength="72.58" lengthAdjust="spacingAndGlyphs">overpass</text>
<text x="172.00" y="466.69" textLength="90.59" lengthAdjust="spacingAndGlyphs">parking lot</text>
<text x="172.00" y="495.22" textLength="40.17" lengthAdjust="spacingAndGlyphs">river</text>
<text x="172.00" y="523.75" textLength="60.38" lengthAdjust="spacingAndGlyphs">runway</text>
<text x="172.00" y="552.28" textLength="147.6" lengthAdjust="spacingAndGlyphs">sparse residential</text>
<text x="172.00" y="580.81" textLength="110.36" lengthAdjust="spacingAndGlyphs">storage tanks</text>
<text x="172.00" y="609.34" textLength="108.9" lengthAdjust="spacingAndGlyphs">tennis courts</text>
</g>
<g font-family="'Liberation Serif', 'Times New Roman', serif" font-size="20.8" text-anchor="end" fill="#000" stroke="#000" stroke-width="0.1">
<text transform="translate(211.16 634.30) rotate(-45)" textLength="96.76" lengthAdjust="spacingAndGlyphs">agricultural</text>
<text transform="translate(246.53 634.30) rotate(-45)" textLength="66.98" lengthAdjust="spacingAndGlyphs">airplane</text>
<text transform="translate(281.90 634.30) rotate(-45)" textLength="144.53" lengthAdjust="spacingAndGlyphs">baseball diamond</text>
<text transform="translate(317.27 634.30) rotate(-45)" textLength="47.7" lengthAdjust="spacingAndGlyphs">beach</text>
<text transform="translate(352.65 634.30) rotate(-45)" textLength="76.62" lengthAdjust="spacingAndGlyphs">buildings</text>
<text transform="translate(388.02 634.30) rotate(-45)" textLength="77.06" lengthAdjust="spacingAndGlyphs">chaparral</text>
<text transform="translate(423.39 634.30) rotate(-45)" textLength="143.27" lengthAdjust="spacingAndGlyphs">dense residential</text>
<text transform="translate(458.77 634.30) rotate(-45)" textLength="50.26" lengthAdjust="spacingAndGlyphs">forest</text>
<text transform="translate(494.14 634.30) rotate(-45)" textLength="66.07" lengthAdjust="spacingAndGlyphs">freeway</text>
<text transform="translate(529.51 634.30) rotate(-45)" textLength="96.88" lengthAdjust="spacingAndGlyphs">golf course</text>
<text transform="translate(564.88 634.30) rotate(-45)" textLength="53.98" lengthAdjust="spacingAndGlyphs">harbor</text>
<text transform="translate(600.26 634.30) rotate(-45)" textLength="101.43" lengthAdjust="spacingAndGlyphs">intersection</text>
<text transform="translate(635.63 634.30) rotate(-45)" textLength="162.98" lengthAdjust="spacingAndGlyphs">medium residential</text>
<text transform="translate(671.00 634.30) rotate(-45)" textLength="152.43" lengthAdjust="spacingAndGlyphs">mobile home park</text>
<text transform="translate(706.38 634.30) rotate(-45)" textLength="72.58" lengthAdjust="spacingAndGlyphs">overpass</text>
<text transform="translate(741.75 634.30) rotate(-45)" textLength="90.59" lengthAdjust="spacingAndGlyphs">parking lot</text>
<text transform="translate(777.12 634.30) rotate(-45)" textLength="40.17" lengthAdjust="spacingAndGlyphs">river</text>
<text transform="translate(812.50 634.30) rotate(-45)" textLength="60.38" lengthAdjust="spacingAndGlyphs">runway</text>
<text transform="translate(847.87 634.30) rotate(-45)" textLength="147.6" lengthAdjust="spacingAndGlyphs">sparse residential</text>
<text transform="translate(883.24 634.30) rotate(-45)" textLength="110.36" lengthAdjust="spacingAndGlyphs">storage tanks</text>
<text transform="translate(918.61 634.30) rotate(-45)" textLength="108.9" lengthAdjust="spacingAndGlyphs">tennis courts</text>
</g>
<defs><linearGradient id="cbg1" x1="0" y1="1" x2="0" y2="0"><stop offset="0.0000%" stop-color="rgb(255,255,255)"/><stop offset="1.5625%" stop-color="rgb(255,255,255)"/><stop offset="1.5625%" stop-color="rgb(251,251,251)"/><stop offset="3.1250%" stop-color="rgb(251,251,251)"/><stop offset="3.1250%" stop-color="rgb(247,247,247)"/><stop offset="4.6875%" stop-color="rgb(247,247,247)"/><stop offset="4.6875%" stop-color="rgb(243,243,243)"/><stop offset="6.2500%" stop-color="rgb(243,243,243)"/><stop offset="6.2500%" stop-color="rgb(238,238,238)"/><stop offset="7.8125%" stop-color="rgb(238,238,238)"/><stop offset="7.8125%" stop-color="rgb(234,234,234)"/><stop offset="9.3750%" stop-color="rgb(234,234,234)"/><stop offset="9.3750%" stop-color="rgb(230,230,230)"/><stop offset="10.9375%" stop-color="rgb(230,230,230)"/><stop offset="10.9375%" stop-color="rgb(226,226,226)"/><stop offset="12.5000%" stop-color="rgb(226,226,226)"/><stop offset="12.5000%" stop-color="rgb(222,222,222)"/><stop offset="14.0625%" stop-color="rgb(222,222,222)"/><stop offset="14.0625%" stop-color="rgb(218,218,218)"/><stop offset="15.6250%" stop-color="rgb(218,218,218)"/><stop offset="15.6250%" stop-color="rgb(213,213,213)"/><stop offset="17.1875%" stop-color="rgb(213,213,213)"/><stop offset="17.1875%" stop-color="rgb(209,209,209)"/><stop offset="18.7500%" stop-color="rgb(209,209,209)"/><stop offset="18.7500%" stop-color="rgb(205,205,205)"/><stop offset="20.3125%" stop-color="rgb(205,205,205)"/><stop offset="20.3125%" stop-color="rgb(201,201,201)"/><stop offset="21.8750%" stop-color="rgb(201,201,201)"/><stop offset="21.8750%" stop-color="rgb(197,197,197)"/><stop offset="23.4375%" stop-color="rgb(197,197,197)"/><stop offset="23.4375%" stop-color="rgb(193,193,193)"/><stop offset="25.0000%" stop-color="rgb(193,193,193)"/><stop offset="25.0000%" stop-color="rgb(188,188,188)"/><stop offset="26.5625%" stop-color="rgb(188,188,188)"/><stop offset="26.5625%" stop-color="rgb(184,184,184)"/><stop offset="28.1250%" stop-color="rgb(184,184,184)"/><stop offset="28.1250%" stop-color="rgb(180,180,180)"/><stop offset="29.6875%" stop-color="rgb(180,180,180)"/><stop offset="29.6875%" stop-color="rgb(176,176,176)"/><stop offset="31.2500%" stop-color="rgb(176,176,176)"/><stop offset="31.2500%" stop-color="rgb(172,172,172)"/><stop offset="32.8125%" stop-color="rgb(172,172,172)"/><stop offset="32.8125%" stop-color="rgb(168,168,168)"/><stop offset="34.3750%" stop-color="rgb(168,168,168)"/><stop offset="34.3750%" stop-color="rgb(163,163,163)"/><stop offset="35.9375%" stop-color="rgb(163,163,163)"/><stop offset="35.9375%" stop-color="rgb(159,159,159)"/><stop offset="37.5000%" stop-color="rgb(159,159,159)"/><stop offset="37.5000%" stop-color="rgb(155,155,155)"/><stop offset="39.0625%" stop-color="rgb(155,155,155)"/><stop offset="39.0625%" stop-color="rgb(151,151,151)"/><stop offset="40.6250%" stop-color="rgb(151,151,151)"/><stop offset="40.6250%" stop-color="rgb(147,147,147)"/><stop offset="42.1875%" stop-color="rgb(147,147,147)"/><stop offset="42.1875%" stop-color="rgb(143,143,143)"/><stop offset="43.7500%" stop-color="rgb(143,143,143)"/><stop offset="43.7500%" stop-color="rgb(138,138,138)"/><stop offset="45.3125%" stop-color="rgb(138,138,138)"/><stop offset="45.3125%" stop-color="rgb(134,134,134)"/><stop offset="46.8750%" stop-color="rgb(134,134,134)"/><stop offset="46.8750%" stop-color="rgb(130,130,130)"/><stop offset="48.4375%" stop-color="rgb(130,130,130)"/><stop offset="48.4375%" stop-color="rgb(126,126,126)"/><stop offset="50.0000%" stop-color="rgb(126,126,126)"/><stop offset="50.0000%" stop-color="rgb(122,122,122)"/><stop offset="51.5625%" stop-color="rgb(122,122,122)"/><stop offset="51.5625%" stop-color="rgb(118,118,118)"/><stop offset="53.1250%" stop-color="rgb(118,118,118)"/><stop offset="53.1250%" stop-color="rgb(113,113,113)"/><stop offset="54.6875%" stop-color="rgb(113,113,113)"/><stop offset="54.6875%" stop-color="rgb(109,109,109)"/><stop offset="56.2500%" stop-color="rgb(109,109,109)"/><stop offset="56.2500%" stop-color="rgb(105,105,105)"/><stop offset="57.8125%" stop-color="rgb(105,105,105)"/><stop offset="57.8125%" stop-color="rgb(101,101,101)"/><stop offset="59.3750%" stop-color="rgb(101,101,101)"/><stop offset="59.3750%" stop-color="rgb(97,97,97)"/><stop offset="60.9375%" stop-color="rgb(97,97,97)"/><stop offset="60.9375%" stop-color="rgb(93,93,93)"/><stop offset="62.5000%" stop-color="rgb(93,93,93)"/><stop offset="62.5000%" stop-color="rgb(89,89,89)"/><stop offset="64.0625%" stop-color="rgb(89,89,89)"/><stop offset="64.0625%" stop-color="rgb(84,84,84)"/><stop offset="65.6250%" stop-color="rgb(84,84,84)"/><stop offset="65.6250%" stop-color="rgb(80,80,80)"/><stop offset="67.1875%" stop-color="rgb(80,80,80)"/><stop offset="67.1875%" stop-color="rgb(76,76,76)"/><stop offset="68.7500%" stop-color="rgb(76,76,76)"/><stop offset="68.7500%" stop-color="rgb(72,72,72)"/><stop offset="70.3125%" stop-color="rgb(72,72,72)"/><stop offset="70.3125%" stop-color="rgb(68,68,68)"/><stop offset="71.8750%" stop-color="rgb(68,68,68)"/><stop offset="71.8750%" stop-color="rgb(64,64,64)"/><stop offset="73.4375%" stop-color="rgb(64,64,64)"/><stop offset="73.4375%" stop-color="rgb(59,59,59)"/><stop offset="75.0000%" stop-color="rgb(59,59,59)"/><stop offset="75.0000%" stop-color="rgb(55,55,55)"/><stop offset="76.5625%" stop-color="rgb(55,55,55)"/><stop offset="76.5625%" stop-color="rgb(51,51,51)"/><stop offset="78.1250%" stop-color="rgb(51,51,51)"/><stop offset="78.1250%" stop-color="rgb(47,47,47)"/><stop offset="79.6875%" stop-color="rgb(47,47,47)"/><stop offset="79.6875%" stop-color="rgb(43,43,43)"/><stop offset="81.2500%" stop-color="rgb(43,43,43)"/><stop offset="81.2500%" stop-color="rgb(39,39,39)"/><stop offset="82.8125%" stop-color="rgb(39,39,39)"/><stop offset="82.8125%" stop-color="rgb(34,34,34)"/><stop offset="84.3750%" stop-color="rgb(34,34,34)"/><stop offset="84.3750%" stop-color="rgb(30,30,30)"/><stop offset="85.9375%" stop-color="rgb(30,30,30)"/><stop offset="85.9375%" stop-color="rgb(26,26,26)"/><stop offset="87.5000%" stop-color="rgb(26,26,26)"/><stop offset="87.5000%" stop-color="rgb(22,22,22)"/><stop offset="89.0625%" stop-color="rgb(22,22,22)"/><stop offset="89.0625%" stop-color="rgb(18,18,18)"/><stop offset="90.6250%" stop-color="rgb(18,18,18)"/><stop offset="90.6250%" stop-color="rgb(14,14,14)"/><stop offset="92.1875%" stop-color="rgb(14,14,14)"/><stop offset="92.1875%" stop-color="rgb(9,9,9)"/><stop offset="93.7500%" stop-color="rgb(9,9,9)"/><stop offset="93.7500%" stop-color="rgb(5,5,5)"/><stop offset="95.3125%" stop-color="rgb(5,5,5)"/><stop offset="95.3125%" stop-color="rgb(1,1,1)"/><stop offset="96.8750%" stop-color="rgb(1,1,1)"/><stop offset="96.8750%" stop-color="rgb(0,0,0)"/><stop offset="98.4375%" stop-color="rgb(0,0,0)"/><stop offset="98.4375%" stop-color="rgb(0,0,0)"/><stop offset="100.0000%" stop-color="rgb(0,0,0)"/></linearGradient></defs>
<rect x="947.75" y="18.00" width="32.25" height="600.10" fill="url(#cbg1)"/>
<path d="M947.75 618.10h7M980.00 618.10h-7M947.75 558.09h7M980.00 558.09h-7M947.75 498.08h7M980.00 498.08h-7M947.75 438.07h7M980.00 438.07h-7M947.75 378.06h7M980.00 378.06h-7M947.75 318.05h7M980.00 318.05h-7M947.75 258.04h7M980.00 258.04h-7M947.75 198.03h7M980.00 198.03h-7M947.75 138.02h7M980.00 138.02h-7M947.75 78.01h7M980.00 78.01h-7M947.75 18.00h7M980.00 18.00h-7" stroke="#1a1a1a" stroke-width="1.7" fill="none"/>
<rect x="947.75" y="18.00" width="32.25" height="600.10" fill="none" stroke="#1a1a1a" stroke-width="1.9"/>
<g font-family="'Liberation Serif', 'Times New Roman', serif" font-size="20" fill="#000" stroke="#000" stroke-width="0.3">
<text x="983.40" y="625.10">0</text>
<text x="983.40" y="565.09">0.1</text>
<text x="983.40" y="505.08">0.2</text>
<text x="983.40" y="445.07">0.3</text>
<text x="983.40" y="385.06">0.4</text>
<text x="983.40" y="325.05">0.5</text>
<text x="983.40" y="265.04">0.6</text>
<text x="983.40" y="205.03">0.7</text>
<text x="983.40" y="145.02">0.8</text>
<text x="983.40" y="85.01">0.9</text>
<text x="985.40" y="24.30">1</text>
</g>
<rect x="257.20" y="786.30" width="44.18" height="38.90" fill="rgb(0,0,0)" shape-rendering="crispEdges"/>
<rect x="478.10" y="786.30" width="44.18" height="38.90" fill="rgb(251,251,251)" shape-rendering="crispEdges"/>
<rect x="301.38" y="825.20" width="44.18" height="38.90" fill="rgb(0,0,0)" shape-rendering="crispEdges"/>
<rect x="522.28" y="825.20" width="44.18" height="38.90" fill="rgb(251,251,251)" shape-rendering="crispEdges"/>
<rect x="345.56" y="864.10" width="44.18" height="38.90" fill="rgb(22,22,22)" shape-rendering="crispEdges"/>
<rect x="478.10" y="864.10" width="44.18" height="38.90" fill="rgb(251,251,251)" shape-rendering="crispEdges"/>
<rect x="654.82" y="864.10" width="44.18" height="38.90" fill="rgb(251,251,251)" shape-rendering="crispEdges"/>
<rect x="699.00" y="864.10" width="44.18" height="38.90" fill="rgb(247,247,247)" shape-rendering="crispEdges"/>
<rect x="743.18" y="864.10" width="44.18" height="38.90" fill="rgb(251,251,251)" shape-rendering="crispEdges"/>
<rect x="389.74" y="903.00" width="44.18" height="38.90" fill="rgb(0,0,0)" shape-rendering="crispEdges"/>
<rect x="478.10" y="903.00" width="44.18" height="38.90" fill="rgb(251,251,251)" shape-rendering="crispEdges"/>
<rect x="389.74" y="941.90" width="44.18" height="38.90" fill="rgb(243,243,243)" shape-rendering="crispEdges"/>
<rect x="433.92" y="941.90" width="44.18" height="38.90" fill="rgb(18,18,18)" shape-rendering="crispEdges"/>
<rect x="654.82" y="941.90" width="44.18" height="38.90" fill="rgb(247,247,247)" shape-rendering="crispEdges"/>
<rect x="478.10" y="980.80" width="44.18" height="38.90" fill="rgb(9,9,9)" shape-rendering="crispEdges"/>
<rect x="610.64" y="980.80" width="44.18" height="38.90" fill="rgb(243,243,243)" shape-rendering="crispEdges"/>
<rect x="345.56" y="1019.70" width="44.18" height="38.90" fill="rgb(251,251,251)" shape-rendering="crispEdges"/>
<rect x="389.74" y="1019.70" width="44.18" height="38.90" fill="rgb(243,243,243)" shape-rendering="crispEdges"/>
<rect x="433.92" y="1019.70" width="44.18" height="38.90" fill="rgb(251,251,251)" shape-rendering="crispEdges"/>
<rect x="478.10" y="1019.70" width="44.18" height="38.90" fill="rgb(251,251,251)" shape-rendering="crispEdges"/>
<rect x="522.28" y="1019.70" width="44.18" height="38.90" fill="rgb(39,39,39)" shape-rendering="crispEdges"/>
<rect x="566.46" y="1019.70" width="44.18" height="38.90" fill="rgb(251,251,251)" shape-rendering="crispEdges"/>
<rect x="654.82" y="1019.70" width="44.18" height="38.90" fill="rgb(251,251,251)" shape-rendering="crispEdges"/>
<rect x="699.00" y="1019.70" width="44.18" height="38.90" fill="rgb(251,251,251)" shape-rendering="crispEdges"/>
<rect x="301.38" y="1058.60" width="44.18" height="38.90" fill="rgb(251,251,251)" shape-rendering="crispEdges"/>
<rect x="522.28" y="1058.60" width="44.18" height="38.90" fill="rgb(251,251,251)" shape-rendering="crispEdges"/>
<rect x="566.46" y="1058.60" width="44.18" height="38.90" fill="rgb(9,9,9)" shape-rendering="crispEdges"/>
<rect x="610.64" y="1058.60" width="44.18" height="38.90" fill="rgb(251,251,251)" shape-rendering="crispEdges"/>
<rect x="478.10" y="1097.50" width="44.18" height="38.90" fill="rgb(251,251,251)" shape-rendering="crispEdges"/>
<rect x="522.28" y="1097.50" width="44.18" height="38.90" fill="rgb(251,251,251)" shape-rendering="crispEdges"/>
<rect x="566.46" y="1097.50" width="44.18" height="38.90" fill="rgb(251,251,251)" shape-rendering="crispEdges"/>
<rect x="610.64" y="1097.50" width="44.18" height="38.90" fill="rgb(1,1,1)" shape-rendering="crispEdges"/>
<rect x="301.38" y="1136.40" width="44.18" height="38.90" fill="rgb(243,243,243)" shape-rendering="crispEdges"/>
<rect x="522.28" y="1136.40" width="44.18" height="38.90" fill="rgb(243,243,243)" shape-rendering="crispEdges"/>
<rect x="566.46" y="1136.40" width="44.18" height="38.90" fill="rgb(251,251,251)" shape-rendering="crispEdges"/>
<rect x="654.82" y="1136.40" width="44.18" height="38.90" fill="rgb(30,30,30)" shape-rendering="crispEdges"/>
<rect x="345.56" y="1175.30" width="44.18" height="38.90" fill="rgb(251,251,251)" shape-rendering="crispEdges"/>
<rect x="610.64" y="1175.30" width="44.18" height="38.90" fill="rgb(238,238,238)" shape-rendering="crispEdges"/>
<rect x="699.00" y="1175.30" width="44.18" height="38.90" fill="rgb(26,26,26)" shape-rendering="crispEdges"/>
<rect x="345.56" y="1214.20" width="44.18" height="38.90" fill="rgb(251,251,251)" shape-rendering="crispEdges"/>
<rect x="743.18" y="1214.20" width="44.18" height="38.90" fill="rgb(0,0,0)" shape-rendering="crispEdges"/>
<path d="M279.29 787.75v5M279.29 1253.30v-5M323.47 787.75v5M323.47 1253.30v-5M367.65 787.75v5M367.65 1253.30v-5M411.83 787.75v5M411.83 1253.30v-5M456.01 787.75v5M456.01 1253.30v-5M500.19 787.75v5M500.19 1253.30v-5M544.37 787.75v5M544.37 1253.30v-5M588.55 787.75v5M588.55 1253.30v-5M632.73 787.75v5M632.73 1253.30v-5M676.91 787.75v5M676.91 1253.30v-5M721.09 787.75v5M721.09 1253.30v-5M765.27 787.75v5M765.27 1253.30v-5M257.90 805.75h5M788.00 805.75h-5M257.90 844.65h5M788.00 844.65h-5M257.90 883.55h5M788.00 883.55h-5M257.90 922.45h5M788.00 922.45h-5M257.90 961.35h5M788.00 961.35h-5M257.90 1000.25h5M788.00 1000.25h-5M257.90 1039.15h5M788.00 1039.15h-5M257.90 1078.05h5M788.00 1078.05h-5M257.90 1116.95h5M788.00 1116.95h-5M257.90 1155.85h5M788.00 1155.85h-5M257.90 1194.75h5M788.00 1194.75h-5M257.90 1233.65h5M788.00 1233.65h-5" stroke="#1a1a1a" stroke-width="1.5" fill="none"/>
<g font-family="'Liberation Serif', 'Times New Roman', serif" font-size="19.2" text-anchor="middle" stroke-width="0.3">
<text transform="translate(278.99 811.85) scale(1.06 1)" fill="#fff" stroke="#fff" stroke-width="0.1">0.98</text>
<text transform="translate(323.17 811.85) scale(1.06 1)" fill="#000" stroke="#000">0</text>
<text transform="translate(367.35 811.85) scale(1.06 1)" fill="#000" stroke="#000">0</text>
<text transform="translate(411.53 811.85) scale(1.06 1)" fill="#000" stroke="#000">0</text>
<text transform="translate(455.71 811.85) scale(1.06 1)" fill="#000" stroke="#000">0</text>
<text transform="translate(499.89 811.85) scale(1.06 1)" fill="#000" stroke="#000">0.02</text>
<text transform="translate(544.07 811.85) scale(1.06 1)" fill="#000" stroke="#000">0</text>
<text transform="translate(588.25 811.85) scale(1.06 1)" fill="#000" stroke="#000">0</text>
<text transform="translate(632.43 811.85) scale(1.06 1)" fill="#000" stroke="#000">0</text>
<text transform="translate(676.61 811.85) scale(1.06 1)" fill="#000" stroke="#000">0</text>
<text transform="translate(720.79 811.85) scale(1.06 1)" fill="#000" stroke="#000">0</text>
<text transform="translate(764.97 811.85) scale(1.06 1)" fill="#000" stroke="#000">0</text>
<text transform="translate(278.99 850.75) scale(1.06 1)" fill="#000" stroke="#000">0</text>
<text transform="translate(323.17 850.75) scale(1.06 1)" fill="#fff" stroke="#fff" stroke-width="0.1">0.95</text>
<text transform="translate(367.35 850.75) scale(1.06 1)" fill="#000" stroke="#000">0</text>
<text transform="translate(411.53 850.75) scale(1.06 1)" fill="#000" stroke="#000">0.01</text>
<text transform="translate(455.71 850.75) scale(1.06 1)" fill="#000" stroke="#000">0.01</text>
<text transform="translate(499.89 850.75) scale(1.06 1)" fill="#000" stroke="#000">0</text>
<text transform="translate(544.07 850.75) scale(1.06 1)" fill="#000" stroke="#000">0.02</text>
<text transform="translate(588.25 850.75) scale(1.06 1)" fill="#000" stroke="#000">0</text>
<text transform="translate(632.43 850.75) scale(1.06 1)" fill="#000" stroke="#000">0</text>
<text transform="translate(676.61 850.75) scale(1.06 1)" fill="#000" stroke="#000">0.01</text>
<text transform="translate(720.79 850.75) scale(1.06 1)" fill="#000" stroke="#000">0</text>
<text transform="translate(764.97 850.75) scale(1.06 1)" fill="#000" stroke="#000">0</text>
<text transform="translate(278.99 889.65) scale(1.06 1)" fill="#000" stroke="#000">0</text>
<text transform="translate(323.17 889.65) scale(1.06 1)" fill="#000" stroke="#000">0</text>
<text transform="translate(367.35 889.65) scale(1.06 1)" fill="#fff" stroke="#fff" stroke-width="0.1">0.87</text>
<text transform="translate(411.53 889.65) scale(1.06 1)" fill="#000" stroke="#000">0</text>
<text transform="translate(455.71 889.65) scale(1.06 1)" fill="#000" stroke="#000">0.01</text>
<text transform="translate(499.89 889.65) scale(1.06 1)" fill="#000" stroke="#000">0.02</text>
<text transform="translate(544.07 889.65) scale(1.06 1)" fill="#000" stroke="#000">0</text>
<text transform="translate(588.25 889.65) scale(1.06 1)" fill="#000" stroke="#000">0</text>
<text transform="translate(632.43 889.65) scale(1.06 1)" fill="#000" stroke="#000">0.01</text>
<text transform="translate(676.61 889.65) scale(1.06 1)" fill="#000" stroke="#000">0.02</text>
<text transform="translate(720.79 889.65) scale(1.06 1)" fill="#000" stroke="#000">0.04</text>
<text transform="translate(764.97 889.65) scale(1.06 1)" fill="#000" stroke="#000">0.03</text>
<text transform="translate(278.99 928.55) scale(1.06 1)" fill="#000" stroke="#000">0</text>
<text transform="translate(323.17 928.55) scale(1.06 1)" fill="#000" stroke="#000">0</text>
<text transform="translate(367.35 928.55) scale(1.06 1)" fill="#000" stroke="#000">0</text>
<text transform="translate(411.53 928.55) scale(1.06 1)" fill="#fff" stroke="#fff" stroke-width="0.1">0.95</text>
<text transform="translate(455.71 928.55) scale(1.06 1)" fill="#000" stroke="#000">0</text>
<text transform="translate(499.89 928.55) scale(1.06 1)" fill="#000" stroke="#000">0.02</text>
<text transform="translate(544.07 928.55) scale(1.06 1)" fill="#000" stroke="#000">0.01</text>
<text transform="translate(588.25 928.55) scale(1.06 1)" fill="#000" stroke="#000">0.01</text>
<text transform="translate(632.43 928.55) scale(1.06 1)" fill="#000" stroke="#000">0</text>
<text transform="translate(676.61 928.55) scale(1.06 1)" fill="#000" stroke="#000">0.01</text>
<text transform="translate(720.79 928.55) scale(1.06 1)" fill="#000" stroke="#000">0</text>
<text transform="translate(764.97 928.55) scale(1.06 1)" fill="#000" stroke="#000">0</text>
<text transform="translate(278.99 967.45) scale(1.06 1)" fill="#000" stroke="#000">0</text>
<text transform="translate(323.17 967.45) scale(1.06 1)" fill="#000" stroke="#000">0</text>
<text transform="translate(367.35 967.45) scale(1.06 1)" fill="#000" stroke="#000">0.01</text>
<text transform="translate(411.53 967.45) scale(1.06 1)" fill="#000" stroke="#000">0.05</text>
<text transform="translate(455.71 967.45) scale(1.06 1)" fill="#fff" stroke="#fff" stroke-width="0.1">0.88</text>
<text transform="translate(499.89 967.45) scale(1.06 1)" fill="#000" stroke="#000">0</text>
<text transform="translate(544.07 967.45) scale(1.06 1)" fill="#000" stroke="#000">0.01</text>
<text transform="translate(588.25 967.45) scale(1.06 1)" fill="#000" stroke="#000">0</text>
<text transform="translate(632.43 967.45) scale(1.06 1)" fill="#000" stroke="#000">0</text>
<text transform="translate(676.61 967.45) scale(1.06 1)" fill="#000" stroke="#000">0.04</text>
<text transform="translate(720.79 967.45) scale(1.06 1)" fill="#000" stroke="#000">0.01</text>
<text transform="translate(764.97 967.45) scale(1.06 1)" fill="#000" stroke="#000">0</text>
<text transform="translate(278.99 1006.35) scale(1.06 1)" fill="#000" stroke="#000">0</text>
<text transform="translate(323.17 1006.35) scale(1.06 1)" fill="#000" stroke="#000">0</text>
<text transform="translate(367.35 1006.35) scale(1.06 1)" fill="#000" stroke="#000">0</text>
<text transform="translate(411.53 1006.35) scale(1.06 1)" fill="#000" stroke="#000">0.01</text>
<text transform="translate(455.71 1006.35) scale(1.06 1)" fill="#000" stroke="#000">0</text>
<text transform="translate(499.89 1006.35) scale(1.06 1)" fill="#fff" stroke="#fff" stroke-width="0.1">0.91</text>
<text transform="translate(544.07 1006.35) scale(1.06 1)" fill="#000" stroke="#000">0.01</text>
<text transform="translate(588.25 1006.35) scale(1.06 1)" fill="#000" stroke="#000">0.01</text>
<text transform="translate(632.43 1006.35) scale(1.06 1)" fill="#000" stroke="#000">0.05</text>
<text transform="translate(676.61 1006.35) scale(1.06 1)" fill="#000" stroke="#000">0</text>
<text transform="translate(720.79 1006.35) scale(1.06 1)" fill="#000" stroke="#000">0.01</text>
<text transform="translate(764.97 1006.35) scale(1.06 1)" fill="#000" stroke="#000">0</text>
<text transform="translate(278.99 1045.25) scale(1.06 1)" fill="#000" stroke="#000">0</text>
<text transform="translate(323.17 1045.25) scale(1.06 1)" fill="#000" stroke="#000">0</text>
<text transform="translate(367.35 1045.25) scale(1.06 1)" fill="#000" stroke="#000">0.02</text>
<text transform="translate(411.53 1045.25) scale(1.06 1)" fill="#000" stroke="#000">0.05</text>
<text transform="translate(455.71 1045.25) scale(1.06 1)" fill="#000" stroke="#000">0.03</text>
<text transform="translate(499.89 1045.25) scale(1.06 1)" fill="#000" stroke="#000">0.02</text>
<text transform="translate(544.07 1045.25) scale(1.06 1)" fill="#fff" stroke="#fff" stroke-width="0.1">0.8</text>
<text transform="translate(588.25 1045.25) scale(1.06 1)" fill="#000" stroke="#000">0.02</text>
<text transform="translate(632.43 1045.25) scale(1.06 1)" fill="#000" stroke="#000">0</text>
<text transform="translate(676.61 1045.25) scale(1.06 1)" fill="#000" stroke="#000">0.03</text>
<text transform="translate(720.79 1045.25) scale(1.06 1)" fill="#000" stroke="#000">0.03</text>
<text transform="translate(764.97 1045.25) scale(1.06 1)" fill="#000" stroke="#000">0</text>
<text transform="translate(278.99 1084.15) scale(1.06 1)" fill="#000" stroke="#000">0</text>
<text transform="translate(323.17 1084.15) scale(1.06 1)" fill="#000" stroke="#000">0.02</text>
<text transform="translate(367.35 1084.15) scale(1.06 1)" fill="#000" stroke="#000">0</text>
<text transform="translate(411.53 1084.15) scale(1.06 1)" fill="#000" stroke="#000">0</text>
<text transform="translate(455.71 1084.15) scale(1.06 1)" fill="#000" stroke="#000">0</text>
<text transform="translate(499.89 1084.15) scale(1.06 1)" fill="#000" stroke="#000">0.01</text>
<text transform="translate(544.07 1084.15) scale(1.06 1)" fill="#000" stroke="#000">0.02</text>
<text transform="translate(588.25 1084.15) scale(1.06 1)" fill="#fff" stroke="#fff" stroke-width="0.1">0.91</text>
<text transform="translate(632.43 1084.15) scale(1.06 1)" fill="#000" stroke="#000">0.03</text>
<text transform="translate(676.61 1084.15) scale(1.06 1)" fill="#000" stroke="#000">0.01</text>
<text transform="translate(720.79 1084.15) scale(1.06 1)" fill="#000" stroke="#000">0</text>
<text transform="translate(764.97 1084.15) scale(1.06 1)" fill="#000" stroke="#000">0</text>
<text transform="translate(278.99 1123.05) scale(1.06 1)" fill="#000" stroke="#000">0</text>
<text transform="translate(323.17 1123.05) scale(1.06 1)" fill="#000" stroke="#000">0</text>
<text transform="translate(367.35 1123.05) scale(1.06 1)" fill="#000" stroke="#000">0</text>
<text transform="translate(411.53 1123.05) scale(1.06 1)" fill="#000" stroke="#000">0</text>
<text transform="translate(455.71 1123.05) scale(1.06 1)" fill="#000" stroke="#000">0</text>
<text transform="translate(499.89 1123.05) scale(1.06 1)" fill="#000" stroke="#000">0.02</text>
<text transform="translate(544.07 1123.05) scale(1.06 1)" fill="#000" stroke="#000">0.02</text>
<text transform="translate(588.25 1123.05) scale(1.06 1)" fill="#000" stroke="#000">0.02</text>
<text transform="translate(632.43 1123.05) scale(1.06 1)" fill="#fff" stroke="#fff" stroke-width="0.1">0.94</text>
<text transform="translate(676.61 1123.05) scale(1.06 1)" fill="#000" stroke="#000">0</text>
<text transform="translate(720.79 1123.05) scale(1.06 1)" fill="#000" stroke="#000">0</text>
<text transform="translate(764.97 1123.05) scale(1.06 1)" fill="#000" stroke="#000">0</text>
<text transform="translate(278.99 1161.95) scale(1.06 1)" fill="#000" stroke="#000">0</text>
<text transform="translate(323.17 1161.95) scale(1.06 1)" fill="#000" stroke="#000">0.06</text>
<text transform="translate(367.35 1161.95) scale(1.06 1)" fill="#000" stroke="#000">0</text>
<text transform="translate(411.53 1161.95) scale(1.06 1)" fill="#000" stroke="#000">0.01</text>
<text transform="translate(455.71 1161.95) scale(1.06 1)" fill="#000" stroke="#000">0.01</text>
<text transform="translate(499.89 1161.95) scale(1.06 1)" fill="#000" stroke="#000">0</text>
<text transform="translate(544.07 1161.95) scale(1.06 1)" fill="#000" stroke="#000">0.06</text>
<text transform="translate(588.25 1161.95) scale(1.06 1)" fill="#000" stroke="#000">0.02</text>
<text transform="translate(632.43 1161.95) scale(1.06 1)" fill="#000" stroke="#000">0</text>
<text transform="translate(676.61 1161.95) scale(1.06 1)" fill="#fff" stroke="#fff" stroke-width="0.1">0.84</text>
<text transform="translate(720.79 1161.95) scale(1.06 1)" fill="#000" stroke="#000">0</text>
<text transform="translate(764.97 1161.95) scale(1.06 1)" fill="#000" stroke="#000">0</text>
<text transform="translate(278.99 1200.85) scale(1.06 1)" fill="#000" stroke="#000">0</text>
<text transform="translate(323.17 1200.85) scale(1.06 1)" fill="#000" stroke="#000">0.01</text>
<text transform="translate(367.35 1200.85) scale(1.06 1)" fill="#000" stroke="#000">0.03</text>
<text transform="translate(411.53 1200.85) scale(1.06 1)" fill="#000" stroke="#000">0</text>
<text transform="translate(455.71 1200.85) scale(1.06 1)" fill="#000" stroke="#000">0</text>
<text transform="translate(499.89 1200.85) scale(1.06 1)" fill="#000" stroke="#000">0.01</text>
<text transform="translate(544.07 1200.85) scale(1.06 1)" fill="#000" stroke="#000">0.01</text>
<text transform="translate(588.25 1200.85) scale(1.06 1)" fill="#000" stroke="#000">0</text>
<text transform="translate(632.43 1200.85) scale(1.06 1)" fill="#000" stroke="#000">0.07</text>
<text transform="translate(676.61 1200.85) scale(1.06 1)" fill="#000" stroke="#000">0.01</text>
<text transform="translate(720.79 1200.85) scale(1.06 1)" fill="#fff" stroke="#fff" stroke-width="0.1">0.85</text>
<text transform="translate(764.97 1200.85) scale(1.06 1)" fill="#000" stroke="#000">0.01</text>
<text transform="translate(278.99 1239.75) scale(1.06 1)" fill="#000" stroke="#000">0</text>
<text transform="translate(323.17 1239.75) scale(1.06 1)" fill="#000" stroke="#000">0</text>
<text transform="translate(367.35 1239.75) scale(1.06 1)" fill="#000" stroke="#000">0.03</text>
<text transform="translate(411.53 1239.75) scale(1.06 1)" fill="#000" stroke="#000">0</text>
<text transform="translate(455.71 1239.75) scale(1.06 1)" fill="#000" stroke="#000">0</text>
<text transform="translate(499.89 1239.75) scale(1.06 1)" fill="#000" stroke="#000">0</text>
<text transform="translate(544.07 1239.75) scale(1.06 1)" fill="#000" stroke="#000">0</text>
<text transform="translate(588.25 1239.75) scale(1.06 1)" fill="#000" stroke="#000">0</text>
<text transform="translate(632.43 1239.75) scale(1.06 1)" fill="#000" stroke="#000">0</text>
<text transform="translate(676.61 1239.75) scale(1.06 1)" fill="#000" stroke="#000">0</text>
<text transform="translate(720.79 1239.75) scale(1.06 1)" fill="#000" stroke="#000">0</text>
<text transform="translate(764.97 1239.75) scale(1.06 1)" fill="#fff" stroke="#fff" stroke-width="0.1">0.97</text>
</g>
<rect x="257.90" y="787.75" width="530.10" height="465.55" fill="none" stroke="#1a1a1a" stroke-width="1.6"/>
<g font-family="'Liberation Serif', 'Times New Roman', serif" font-size="19.7" text-anchor="end" fill="#000" stroke="#000" stroke-width="0.3">
<text x="252.80" y="812.35" textLength="84.88" lengthAdjust="spacingAndGlyphs">agriculture</text>
<text x="252.80" y="851.25" textLength="94.67" lengthAdjust="spacingAndGlyphs">commercial</text>
<text x="252.80" y="890.15" textLength="50.79" lengthAdjust="spacingAndGlyphs">harbor</text>
<text x="252.80" y="929.05" textLength="65.94" lengthAdjust="spacingAndGlyphs">idle land</text>
<text x="252.80" y="967.95" textLength="73.07" lengthAdjust="spacingAndGlyphs">industrial</text>
<text x="252.80" y="1006.85" textLength="64.6" lengthAdjust="spacingAndGlyphs">meadow</text>
<text x="252.80" y="1045.75" textLength="67.89" lengthAdjust="spacingAndGlyphs">overpass</text>
<text x="252.80" y="1084.65" textLength="33.78" lengthAdjust="spacingAndGlyphs">park</text>
<text x="252.80" y="1123.55" textLength="37.88" lengthAdjust="spacingAndGlyphs">pond</text>
<text x="252.80" y="1162.45" textLength="83.3" lengthAdjust="spacingAndGlyphs">residential</text>
<text x="252.80" y="1201.35" textLength="37.47" lengthAdjust="spacingAndGlyphs">river</text>
<text x="252.80" y="1240.25" textLength="42.33" lengthAdjust="spacingAndGlyphs">water</text>
</g>
<g font-family="'Liberation Serif', 'Times New Roman', serif" font-size="19.7" text-anchor="end" fill="#000" stroke="#000" stroke-width="0.1">
<text transform="translate(294.29 1270.30) rotate(-45)" textLength="84.88" lengthAdjust="spacingAndGlyphs">agriculture</text>
<text transform="translate(338.47 1270.30) rotate(-45)" textLength="94.67" lengthAdjust="spacingAndGlyphs">commercial</text>
<text transform="translate(382.65 1270.30) rotate(-45)" textLength="50.79" lengthAdjust="spacingAndGlyphs">harbor</text>
<text transform="translate(426.83 1270.30) rotate(-45)" textLength="65.94" lengthAdjust="spacingAndGlyphs">idle land</text>
<text transform="translate(471.01 1270.30) rotate(-45)" textLength="73.07" lengthAdjust="spacingAndGlyphs">industrial</text>
<text transform="translate(515.19 1270.30) rotate(-45)" textLength="64.6" lengthAdjust="spacingAndGlyphs">meadow</text>
<text transform="translate(559.37 1270.30) rotate(-45)" textLength="67.89" lengthAdjust="spacingAndGlyphs">overpass</text>
<text transform="translate(603.55 1270.30) rotate(-45)" textLength="33.78" lengthAdjust="spacingAndGlyphs">park</text>
<text transform="translate(647.73 1270.30) rotate(-45)" textLength="37.88" lengthAdjust="spacingAndGlyphs">pond</text>
<text transform="translate(691.91 1270.30) rotate(-45)" textLength="83.3" lengthAdjust="spacingAndGlyphs">residential</text>
<text transform="translate(736.09 1270.30) rotate(-45)" textLength="37.47" lengthAdjust="spacingAndGlyphs">river</text>
<text transform="translate(780.27 1270.30) rotate(-45)" textLength="42.33" lengthAdjust="spacingAndGlyphs">water</text>
</g>
<defs><linearGradient id="cbg2" x1="0" y1="1" x2="0" y2="0"><stop offset="0.0000%" stop-color="rgb(255,255,255)"/><stop offset="1.5625%" stop-color="rgb(255,255,255)"/><stop offset="1.5625%" stop-color="rgb(251,251,251)"/><stop offset="3.1250%" stop-color="rgb(251,251,251)"/><stop offset="3.1250%" stop-color="rgb(247,247,247)"/><stop offset="4.6875%" stop-color="rgb(247,247,247)"/><stop offset="4.6875%" stop-color="rgb(243,243,243)"/><stop offset="6.2500%" stop-color="rgb(243,243,243)"/><stop offset="6.2500%" stop-color="rgb(238,238,238)"/><stop offset="7.8125%" stop-color="rgb(238,238,238)"/><stop offset="7.8125%" stop-color="rgb(234,234,234)"/><stop offset="9.3750%" stop-color="rgb(234,234,234)"/><stop offset="9.3750%" stop-color="rgb(230,230,230)"/><stop offset="10.9375%" stop-color="rgb(230,230,230)"/><stop offset="10.9375%" stop-color="rgb(226,226,226)"/><stop offset="12.5000%" stop-color="rgb(226,226,226)"/><stop offset="12.5000%" stop-color="rgb(222,222,222)"/><stop offset="14.0625%" stop-color="rgb(222,222,222)"/><stop offset="14.0625%" stop-color="rgb(218,218,218)"/><stop offset="15.6250%" stop-color="rgb(218,218,218)"/><stop offset="15.6250%" stop-color="rgb(213,213,213)"/><stop offset="17.1875%" stop-color="rgb(213,213,213)"/><stop offset="17.1875%" stop-color="rgb(209,209,209)"/><stop offset="18.7500%" stop-color="rgb(209,209,209)"/><stop offset="18.7500%" stop-color="rgb(205,205,205)"/><stop offset="20.3125%" stop-color="rgb(205,205,205)"/><stop offset="20.3125%" stop-color="rgb(201,201,201)"/><stop offset="21.8750%" stop-color="rgb(201,201,201)"/><stop offset="21.8750%" stop-color="rgb(197,197,197)"/><stop offset="23.4375%" stop-color="rgb(197,197,197)"/><stop offset="23.4375%" stop-color="rgb(193,193,193)"/><stop offset="25.0000%" stop-color="rgb(193,193,193)"/><stop offset="25.0000%" stop-color="rgb(188,188,188)"/><stop offset="26.5625%" stop-color="rgb(188,188,188)"/><stop offset="26.5625%" stop-color="rgb(184,184,184)"/><stop offset="28.1250%" stop-color="rgb(184,184,184)"/><stop offset="28.1250%" stop-color="rgb(180,180,180)"/><stop offset="29.6875%" stop-color="rgb(180,180,180)"/><stop offset="29.6875%" stop-color="rgb(176,176,176)"/><stop offset="31.2500%" stop-color="rgb(176,176,176)"/><stop offset="31.2500%" stop-color="rgb(172,172,172)"/><stop offset="32.8125%" stop-color="rgb(172,172,172)"/><stop offset="32.8125%" stop-color="rgb(168,168,168)"/><stop offset="34.3750%" stop-color="rgb(168,168,168)"/><stop offset="34.3750%" stop-color="rgb(163,163,163)"/><stop offset="35.9375%" stop-color="rgb(163,163,163)"/><stop offset="35.9375%" stop-color="rgb(159,159,159)"/><stop offset="37.5000%" stop-color="rgb(159,159,159)"/><stop offset="37.5000%" stop-color="rgb(155,155,155)"/><stop offset="39.0625%" stop-color="rgb(155,155,155)"/><stop offset="39.0625%" stop-color="rgb(151,151,151)"/><stop offset="40.6250%" stop-color="rgb(151,151,151)"/><stop offset="40.6250%" stop-color="rgb(147,147,147)"/><stop offset="42.1875%" stop-color="rgb(147,147,147)"/><stop offset="42.1875%" stop-color="rgb(143,143,143)"/><stop offset="43.7500%" stop-color="rgb(143,143,143)"/><stop offset="43.7500%" stop-color="rgb(138,138,138)"/><stop offset="45.3125%" stop-color="rgb(138,138,138)"/><stop offset="45.3125%" stop-color="rgb(134,134,134)"/><stop offset="46.8750%" stop-color="rgb(134,134,134)"/><stop offset="46.8750%" stop-color="rgb(130,130,130)"/><stop offset="48.4375%" stop-color="rgb(130,130,130)"/><stop offset="48.4375%" stop-color="rgb(126,126,126)"/><stop offset="50.0000%" stop-color="rgb(126,126,126)"/><stop offset="50.0000%" stop-color="rgb(122,122,122)"/><stop offset="51.5625%" stop-color="rgb(122,122,122)"/><stop offset="51.5625%" stop-color="rgb(118,118,118)"/><stop offset="53.1250%" stop-color="rgb(118,118,118)"/><stop offset="53.1250%" stop-color="rgb(113,113,113)"/><stop offset="54.6875%" stop-color="rgb(113,113,113)"/><stop offset="54.6875%" stop-color="rgb(109,109,109)"/><stop offset="56.2500%" stop-color="rgb(109,109,109)"/><stop offset="56.2500%" stop-color="rgb(105,105,105)"/><stop offset="57.8125%" stop-color="rgb(105,105,105)"/><stop offset="57.8125%" stop-color="rgb(101,101,101)"/><stop offset="59.3750%" stop-color="rgb(101,101,101)"/><stop offset="59.3750%" stop-color="rgb(97,97,97)"/><stop offset="60.9375%" stop-color="rgb(97,97,97)"/><stop offset="60.9375%" stop-color="rgb(93,93,93)"/><stop offset="62.5000%" stop-color="rgb(93,93,93)"/><stop offset="62.5000%" stop-color="rgb(89,89,89)"/><stop offset="64.0625%" stop-color="rgb(89,89,89)"/><stop offset="64.0625%" stop-color="rgb(84,84,84)"/><stop offset="65.6250%" stop-color="rgb(84,84,84)"/><stop offset="65.6250%" stop-color="rgb(80,80,80)"/><stop offset="67.1875%" stop-color="rgb(80,80,80)"/><stop offset="67.1875%" stop-color="rgb(76,76,76)"/><stop offset="68.7500%" stop-color="rgb(76,76,76)"/><stop offset="68.7500%" stop-color="rgb(72,72,72)"/><stop offset="70.3125%" stop-color="rgb(72,72,72)"/><stop offset="70.3125%" stop-color="rgb(68,68,68)"/><stop offset="71.8750%" stop-color="rgb(68,68,68)"/><stop offset="71.8750%" stop-color="rgb(64,64,64)"/><stop offset="73.4375%" stop-color="rgb(64,64,64)"/><stop offset="73.4375%" stop-color="rgb(59,59,59)"/><stop offset="75.0000%" stop-color="rgb(59,59,59)"/><stop offset="75.0000%" stop-color="rgb(55,55,55)"/><stop offset="76.5625%" stop-color="rgb(55,55,55)"/><stop offset="76.5625%" stop-color="rgb(51,51,51)"/><stop offset="78.1250%" stop-color="rgb(51,51,51)"/><stop offset="78.1250%" stop-color="rgb(47,47,47)"/><stop offset="79.6875%" stop-color="rgb(47,47,47)"/><stop offset="79.6875%" stop-color="rgb(43,43,43)"/><stop offset="81.2500%" stop-color="rgb(43,43,43)"/><stop offset="81.2500%" stop-color="rgb(39,39,39)"/><stop offset="82.8125%" stop-color="rgb(39,39,39)"/><stop offset="82.8125%" stop-color="rgb(34,34,34)"/><stop offset="84.3750%" stop-color="rgb(34,34,34)"/><stop offset="84.3750%" stop-color="rgb(30,30,30)"/><stop offset="85.9375%" stop-color="rgb(30,30,30)"/><stop offset="85.9375%" stop-color="rgb(26,26,26)"/><stop offset="87.5000%" stop-color="rgb(26,26,26)"/><stop offset="87.5000%" stop-color="rgb(22,22,22)"/><stop offset="89.0625%" stop-color="rgb(22,22,22)"/><stop offset="89.0625%" stop-color="rgb(18,18,18)"/><stop offset="90.6250%" stop-color="rgb(18,18,18)"/><stop offset="90.6250%" stop-color="rgb(14,14,14)"/><stop offset="92.1875%" stop-color="rgb(14,14,14)"/><stop offset="92.1875%" stop-color="rgb(9,9,9)"/><stop offset="93.7500%" stop-color="rgb(9,9,9)"/><stop offset="93.7500%" stop-color="rgb(5,5,5)"/><stop offset="95.3125%" stop-color="rgb(5,5,5)"/><stop offset="95.3125%" stop-color="rgb(1,1,1)"/><stop offset="96.8750%" stop-color="rgb(1,1,1)"/><stop offset="96.8750%" stop-color="rgb(0,0,0)"/><stop offset="98.4375%" stop-color="rgb(0,0,0)"/><stop offset="98.4375%" stop-color="rgb(0,0,0)"/><stop offset="100.0000%" stop-color="rgb(0,0,0)"/></linearGradient></defs>
<rect x="812.75" y="787.75" width="30.30" height="466.25" fill="url(#cbg2)"/>
<path d="M812.75 1206.33h5M843.05 1206.33h-5M812.75 1158.65h5M843.05 1158.65h-5M812.75 1110.98h5M843.05 1110.98h-5M812.75 1063.30h5M843.05 1063.30h-5M812.75 1015.63h5M843.05 1015.63h-5M812.75 967.96h5M843.05 967.96h-5M812.75 920.28h5M843.05 920.28h-5M812.75 872.61h5M843.05 872.61h-5M812.75 824.94h5M843.05 824.94h-5" stroke="#1a1a1a" stroke-width="1.5" fill="none"/>
<rect x="812.75" y="787.75" width="30.30" height="466.25" fill="none" stroke="#1a1a1a" stroke-width="1.6"/>
<g font-family="'Liberation Serif', 'Times New Roman', serif" font-size="20" fill="#000" stroke="#000" stroke-width="0.3">
<text x="846.45" y="1213.33">0.1</text>
<text x="846.45" y="1165.65">0.2</text>
<text x="846.45" y="1117.98">0.3</text>
<text x="846.45" y="1070.30">0.4</text>
<text x="846.45" y="1022.63">0.5</text>
<text x="846.45" y="974.96">0.6</text>
<text x="846.45" y="927.28">0.7</text>
<text x="846.45" y="879.61">0.8</text>
<text x="846.45" y="831.94">0.9</text>
</g>
<g font-family="'Liberation Serif', 'Times New Roman', serif" fill="#000">
<text x="498.3" y="780.6" font-size="25">(</text>
<text x="505.8" y="780.6" font-size="23" font-weight="bold">a</text>
<text x="517.1" y="780.6" font-size="25">)</text>
</g>
<g font-family="'Liberation Serif', 'Times New Roman', serif" fill="#000">
<text x="497.2" y="1361.7" font-size="25">(</text>
<text x="505.8" y="1361.7" font-size="24" font-weight="bold">b</text>
<text x="518.3" y="1361.7" font-size="25">)</text>
</g>
</svg></body></html>
